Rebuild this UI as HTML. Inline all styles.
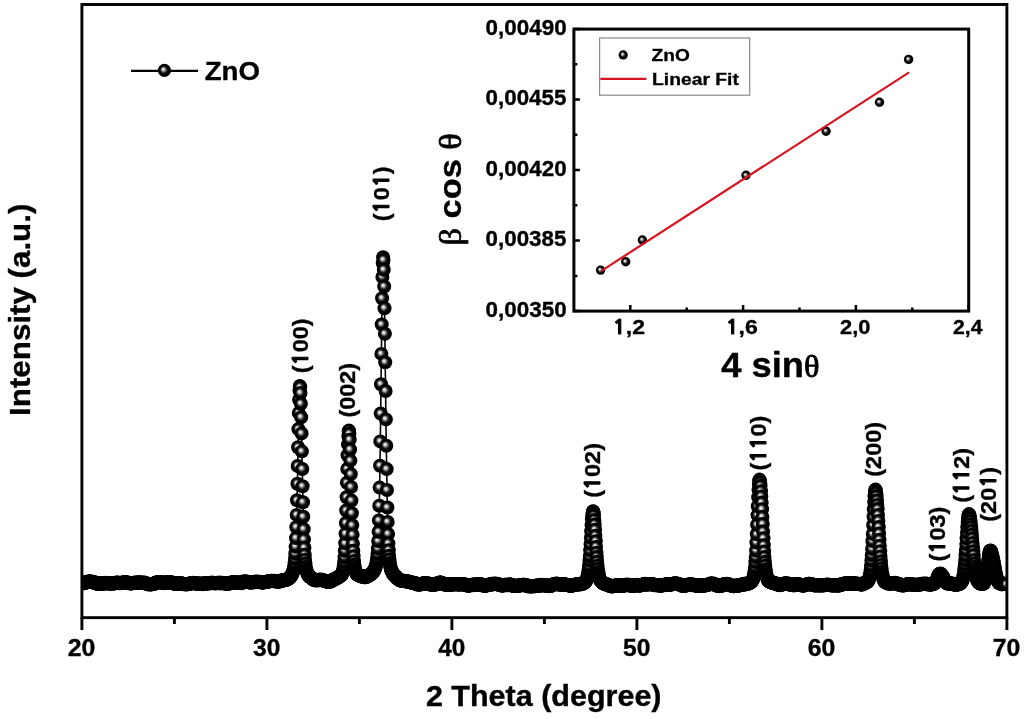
<!DOCTYPE html>
<html><head><meta charset="utf-8"><style>
html,body{margin:0;padding:0;background:#fff;}
body{width:1025px;height:719px;overflow:hidden;}
svg{display:block;}
text{font-family:"Liberation Sans",Arial,sans-serif;font-weight:bold;fill:#000;stroke:#000;stroke-width:0.35px;}
.sym{font-family:"Liberation Serif","Times New Roman",serif;font-weight:normal;}
.n1{font-family:"NanumGothic","Liberation Sans",sans-serif;stroke-width:1px;}
</style></head><body>
<svg width="1025" height="719" viewBox="0 0 1025 719">
<defs>
<radialGradient id="sph" cx="0.5" cy="0.5" r="0.5" fx="0.4" fy="0.4">
<stop offset="0" stop-color="#f4f4f4"/>
<stop offset="0.17" stop-color="#d4d4d4"/>
<stop offset="0.35" stop-color="#686868"/>
<stop offset="0.52" stop-color="#141414"/>
<stop offset="0.7" stop-color="#000"/>
<stop offset="1" stop-color="#000"/>
</radialGradient>
<clipPath id="mclip"><rect x="83" y="6" width="922.5" height="610"/></clipPath>
</defs>
<rect width="1025" height="719" fill="#fff"/>
<g clip-path="url(#mclip)">
<polyline points="81.9,583.5 82.3,583.1 82.6,582.8 83.0,583.1 83.3,582.7 83.7,582.6 84.0,583.3 84.4,582.8 84.7,582.8 85.1,582.7 85.4,582.9 85.8,582.5 86.1,582.5 86.5,582.0 86.8,581.8 87.2,582.2 87.5,582.1 87.9,581.9 88.2,581.7 88.6,581.6 88.9,581.4 89.3,581.8 89.6,581.6 90.0,581.6 90.3,581.6 90.7,581.8 91.0,581.7 91.4,581.8 91.7,581.5 92.1,581.9 92.4,582.4 92.8,581.9 93.1,582.1 93.5,582.5 93.9,582.6 94.2,582.6 94.6,582.3 94.9,582.8 95.3,582.6 95.6,582.8 96.0,583.2 96.3,583.1 96.7,583.4 97.0,584.0 97.4,583.6 97.7,583.6 98.1,583.4 98.4,583.5 98.8,583.5 99.1,583.6 99.5,583.5 99.8,583.6 100.2,583.7 100.5,583.6 100.9,583.5 101.2,583.5 101.6,583.8 101.9,583.6 102.3,583.8 102.6,583.7 103.0,583.4 103.3,583.5 103.7,583.0 104.0,583.7 104.4,583.4 104.7,583.1 105.1,582.9 105.5,583.2 105.8,582.7 106.2,582.9 106.5,583.2 106.9,583.1 107.2,583.0 107.6,583.4 107.9,583.0 108.3,583.3 108.6,583.2 109.0,583.1 109.3,583.4 109.7,583.2 110.0,583.8 110.4,583.3 110.7,583.8 111.1,583.2 111.4,583.6 111.8,583.2 112.1,583.2 112.5,583.5 112.8,583.5 113.2,583.1 113.5,583.6 113.9,583.1 114.2,583.3 114.6,583.3 114.9,583.2 115.3,582.7 115.6,583.3 116.0,583.1 116.3,582.9 116.7,582.7 117.0,582.6 117.4,582.6 117.8,583.0 118.1,582.9 118.5,582.8 118.8,582.9 119.2,583.3 119.5,583.0 119.9,582.9 120.2,583.3 120.6,583.1 120.9,583.0 121.3,582.9 121.6,582.6 122.0,582.7 122.3,582.7 122.7,582.7 123.0,582.8 123.4,582.8 123.7,582.6 124.1,582.6 124.4,582.3 124.8,582.0 125.1,582.4 125.5,582.3 125.8,582.3 126.2,582.5 126.5,582.3 126.9,582.4 127.2,582.7 127.6,582.8 127.9,582.7 128.3,583.0 128.6,582.9 129.0,582.8 129.4,583.1 129.7,583.5 130.1,583.0 130.4,583.3 130.8,583.4 131.1,583.4 131.5,582.9 131.8,583.5 132.2,583.0 132.5,582.9 132.9,582.9 133.2,583.1 133.6,582.9 133.9,582.8 134.3,583.1 134.6,582.7 135.0,582.6 135.3,582.9 135.7,582.9 136.0,582.9 136.4,582.5 136.7,582.9 137.1,582.8 137.4,583.0 137.8,582.4 138.1,582.7 138.5,582.6 138.8,582.3 139.2,582.5 139.5,582.8 139.9,582.5 140.2,582.5 140.6,582.8 141.0,582.9 141.3,582.9 141.7,582.5 142.0,582.7 142.4,583.0 142.7,582.7 143.1,582.7 143.4,583.1 143.8,583.3 144.1,582.8 144.5,582.6 144.8,582.9 145.2,583.1 145.5,583.4 145.9,583.6 146.2,583.5 146.6,583.5 146.9,583.8 147.3,583.6 147.6,583.9 148.0,583.9 148.3,584.6 148.7,584.3 149.0,584.1 149.4,584.1 149.7,584.3 150.1,584.1 150.4,584.3 150.8,584.3 151.1,584.6 151.5,584.3 151.8,584.2 152.2,584.1 152.6,584.0 152.9,584.1 153.3,584.0 153.6,584.1 154.0,583.6 154.3,583.8 154.7,583.5 155.0,583.2 155.4,582.7 155.7,582.6 156.1,582.9 156.4,582.9 156.8,582.5 157.1,582.5 157.5,582.2 157.8,582.1 158.2,582.0 158.5,582.3 158.9,582.1 159.2,582.0 159.6,582.0 159.9,582.2 160.3,582.2 160.6,582.1 161.0,582.6 161.3,582.4 161.7,582.5 162.0,582.8 162.4,582.8 162.7,582.7 163.1,582.9 163.4,582.6 163.8,582.8 164.2,582.5 164.5,583.2 164.9,582.6 165.2,583.1 165.6,582.7 165.9,582.6 166.3,582.7 166.6,582.7 167.0,582.7 167.3,582.9 167.7,582.5 168.0,582.5 168.4,582.2 168.7,582.4 169.1,582.3 169.4,582.1 169.8,582.2 170.1,582.3 170.5,582.4 170.8,582.5 171.2,582.5 171.5,582.5 171.9,582.9 172.2,582.6 172.6,582.9 172.9,583.4 173.3,582.7 173.6,583.1 174.0,583.5 174.3,583.0 174.7,583.9 175.0,582.9 175.4,583.7 175.8,583.8 176.1,583.6 176.5,583.4 176.8,583.5 177.2,583.3 177.5,583.6 177.9,583.2 178.2,583.4 178.6,583.6 178.9,583.2 179.3,583.3 179.6,583.5 180.0,583.2 180.3,583.7 180.7,583.6 181.0,583.2 181.4,583.6 181.7,583.5 182.1,583.6 182.4,583.8 182.8,583.7 183.1,584.1 183.5,583.8 183.8,584.2 184.2,584.1 184.5,584.3 184.9,584.0 185.2,584.0 185.6,583.9 185.9,584.3 186.3,584.3 186.6,584.5 187.0,584.3 187.3,584.1 187.7,583.9 188.1,584.0 188.4,583.8 188.8,584.1 189.1,583.9 189.5,583.5 189.8,583.4 190.2,583.7 190.5,583.5 190.9,583.3 191.2,583.5 191.6,583.2 191.9,583.1 192.3,583.1 192.6,582.8 193.0,583.3 193.3,582.9 193.7,583.1 194.0,583.1 194.4,583.4 194.7,583.3 195.1,583.3 195.4,583.0 195.8,583.4 196.1,583.1 196.5,583.5 196.8,583.5 197.2,583.5 197.5,583.9 197.9,583.7 198.2,583.7 198.6,583.6 198.9,583.6 199.3,583.9 199.7,584.0 200.0,583.5 200.4,584.0 200.7,584.0 201.1,584.1 201.4,584.0 201.8,583.6 202.1,583.7 202.5,584.2 202.8,583.9 203.2,583.5 203.5,583.8 203.9,583.7 204.2,583.3 204.6,583.2 204.9,583.3 205.3,583.7 205.6,583.6 206.0,583.5 206.3,583.6 206.7,583.6 207.0,583.1 207.4,583.4 207.7,583.3 208.1,583.2 208.4,583.3 208.8,583.3 209.1,583.2 209.5,582.9 209.8,583.1 210.2,583.5 210.5,582.8 210.9,582.7 211.3,583.0 211.6,583.1 212.0,583.1 212.3,582.7 212.7,583.2 213.0,582.8 213.4,582.8 213.7,582.9 214.1,583.0 214.4,583.2 214.8,583.2 215.1,583.1 215.5,583.3 215.8,583.2 216.2,583.3 216.5,582.9 216.9,582.8 217.2,583.3 217.6,582.9 217.9,583.1 218.3,583.1 218.6,583.0 219.0,582.9 219.3,583.3 219.7,582.5 220.0,583.1 220.4,583.4 220.7,582.9 221.1,582.9 221.4,583.1 221.8,583.3 222.1,582.8 222.5,583.1 222.9,583.1 223.2,583.3 223.6,583.2 223.9,583.4 224.3,583.2 224.6,583.4 225.0,583.3 225.3,583.4 225.7,583.5 226.0,583.6 226.4,583.4 226.7,583.9 227.1,583.6 227.4,583.4 227.8,583.8 228.1,583.4 228.5,583.6 228.8,583.4 229.2,583.4 229.5,583.3 229.9,583.1 230.2,583.1 230.6,583.4 230.9,582.4 231.3,582.8 231.6,582.8 232.0,582.4 232.3,582.2 232.7,582.8 233.0,582.3 233.4,582.7 233.7,582.4 234.1,582.3 234.5,582.4 234.8,582.4 235.2,582.5 235.5,582.4 235.9,582.4 236.2,582.5 236.6,582.8 236.9,582.8 237.3,582.5 237.6,582.6 238.0,582.8 238.3,582.7 238.7,582.7 239.0,582.6 239.4,582.8 239.7,582.9 240.1,583.0 240.4,582.7 240.8,583.1 241.1,582.6 241.5,583.2 241.8,582.6 242.2,582.5 242.5,582.2 242.9,581.6 243.2,582.1 243.6,582.0 243.9,582.3 244.3,581.6 244.6,582.2 245.0,581.7 245.3,581.9 245.7,581.2 246.1,581.8 246.4,581.7 246.8,581.9 247.1,581.9 247.5,581.7 247.8,582.1 248.2,582.1 248.5,582.2 248.9,582.3 249.2,582.4 249.6,582.2 249.9,582.0 250.3,582.0 250.6,582.6 251.0,582.5 251.3,582.3 251.7,582.2 252.0,582.3 252.4,582.2 252.7,582.1 253.1,582.0 253.4,582.5 253.8,582.1 254.1,581.9 254.5,581.7 254.8,581.8 255.2,582.0 255.5,582.0 255.9,581.8 256.2,581.8 256.6,581.7 256.9,581.6 257.3,582.1 257.6,581.9 258.0,582.3 258.4,581.7 258.7,581.9 259.1,582.1 259.4,581.9 259.8,581.7 260.1,581.9 260.5,582.1 260.8,582.2 261.2,582.2 261.5,582.4 261.9,582.5 262.2,582.4 262.6,582.3 262.9,582.3 263.3,582.4 263.6,582.5 264.0,582.3 264.3,582.3 264.7,582.1 265.0,581.9 265.4,581.9 265.7,582.1 266.1,582.0 266.4,582.1 266.8,581.7 267.1,581.8 267.5,581.8 267.8,581.7 268.2,581.2 268.5,581.2 268.9,581.2 269.2,580.9 269.6,581.2 270.0,581.2 270.3,580.9 270.7,581.3 271.0,580.9 271.4,580.9 271.7,580.8 272.1,580.7 272.4,581.0 272.8,580.9 273.1,581.3 273.5,581.1 273.8,581.1 274.2,581.0 274.5,580.8 274.9,581.1 275.2,581.0 275.6,581.4 275.9,581.2 276.3,581.6 276.6,581.4 277.0,581.5 277.3,581.4 277.7,581.4 278.0,581.5 278.4,581.5 278.7,581.2 279.1,581.4 279.4,581.8 279.8,581.2 280.1,581.1 280.5,580.9 280.8,580.6 281.2,581.0 281.6,580.7 281.9,580.6 282.3,580.8 282.6,580.8 283.0,580.0 283.3,580.3 283.7,580.1 284.0,580.0 284.4,580.0 284.7,579.8 285.1,580.1 285.4,579.8 285.8,579.7 286.1,579.8 286.5,579.6 286.8,579.5 287.2,579.3 287.5,579.5 287.9,579.1 288.2,578.8 288.6,578.4 288.9,578.3 289.3,577.9 289.6,577.8 290.0,577.5 290.3,576.7 290.7,576.7 291.0,576.3 291.4,575.7 291.7,574.9 292.1,574.7 292.4,573.5 292.8,572.5 293.2,571.5 293.5,570.3 293.9,568.7 294.2,566.4 294.6,563.1 294.9,558.7 295.3,553.5 295.6,546.6 296.0,538.1 296.3,527.2 296.7,514.9 297.0,500.3 297.4,483.7 297.7,466.0 298.1,447.3 298.4,429.1 298.8,412.9 299.1,399.8 299.5,390.5 299.8,385.9 300.2,387.3 300.5,393.0 300.9,403.7 301.2,417.3 301.6,433.4 301.9,451.4 302.3,469.0 302.6,486.3 303.0,502.2 303.3,516.8 303.7,529.1 304.0,539.4 304.4,547.8 304.8,554.8 305.1,559.7 305.5,563.6 305.8,567.0 306.2,569.4 306.5,570.8 306.9,571.7 307.2,572.9 307.6,574.0 307.9,574.5 308.3,575.3 308.6,575.2 309.0,576.1 309.3,576.2 309.7,576.9 310.0,576.9 310.4,577.4 310.7,577.4 311.1,577.5 311.4,577.8 311.8,578.2 312.1,578.3 312.5,579.0 312.8,579.3 313.2,579.3 313.5,579.2 313.9,579.6 314.2,579.7 314.6,580.3 314.9,580.2 315.3,580.3 315.6,580.2 316.0,579.9 316.4,580.2 316.7,580.1 317.1,580.3 317.4,580.2 317.8,580.0 318.1,580.0 318.5,580.4 318.8,579.8 319.2,579.8 319.5,579.9 319.9,579.8 320.2,579.8 320.6,580.0 320.9,580.3 321.3,579.6 321.6,580.0 322.0,580.1 322.3,580.1 322.7,580.2 323.0,580.2 323.4,580.6 323.7,580.4 324.1,580.6 324.4,580.7 324.8,580.9 325.1,580.9 325.5,581.3 325.8,581.2 326.2,581.4 326.5,581.5 326.9,581.4 327.2,581.5 327.6,581.5 327.9,581.8 328.3,581.7 328.7,581.6 329.0,581.8 329.4,581.8 329.7,581.2 330.1,581.8 330.4,581.3 330.8,581.2 331.1,581.2 331.5,580.8 331.8,580.5 332.2,580.8 332.5,580.0 332.9,580.0 333.2,580.0 333.6,579.4 333.9,579.4 334.3,579.3 334.6,579.6 335.0,578.8 335.3,578.8 335.7,578.8 336.0,578.5 336.4,578.1 336.7,578.2 337.1,577.9 337.4,577.8 337.8,577.7 338.1,577.5 338.5,577.2 338.8,576.9 339.2,576.4 339.5,576.4 339.9,576.2 340.3,575.8 340.6,575.7 341.0,575.2 341.3,575.3 341.7,575.0 342.0,573.9 342.4,573.2 342.7,572.0 343.1,570.8 343.4,568.6 343.8,565.7 344.1,561.9 344.5,557.1 344.8,550.7 345.2,543.3 345.5,533.7 345.9,523.0 346.2,510.5 346.6,497.2 346.9,482.8 347.3,468.9 347.6,455.3 348.0,444.4 348.3,435.9 348.7,431.3 349.0,430.6 349.4,433.8 349.7,439.7 350.1,449.5 350.4,460.6 350.8,474.1 351.1,487.0 351.5,500.6 351.9,513.2 352.2,525.3 352.6,534.8 352.9,543.7 353.3,550.7 353.6,556.2 354.0,561.1 354.3,564.8 354.7,567.3 355.0,569.5 355.4,570.8 355.7,571.9 356.1,572.6 356.4,573.4 356.8,574.2 357.1,574.2 357.5,574.5 357.8,574.5 358.2,574.7 358.5,575.4 358.9,575.0 359.2,575.2 359.6,575.5 359.9,575.6 360.3,576.2 360.6,575.4 361.0,576.1 361.3,576.3 361.7,576.1 362.0,576.3 362.4,576.6 362.7,577.0 363.1,576.6 363.5,576.5 363.8,577.1 364.2,577.3 364.5,576.9 364.9,576.6 365.2,577.3 365.6,576.9 365.9,577.1 366.3,576.7 366.6,576.5 367.0,576.4 367.3,576.6 367.7,576.4 368.0,575.5 368.4,575.6 368.7,575.9 369.1,575.3 369.4,574.9 369.8,575.0 370.1,574.8 370.5,574.6 370.8,574.2 371.2,574.0 371.5,573.7 371.9,573.6 372.2,573.0 372.6,572.7 372.9,572.3 373.3,572.0 373.6,571.3 374.0,570.6 374.3,570.0 374.7,569.2 375.1,568.5 375.4,567.4 375.8,566.5 376.1,565.0 376.5,562.9 376.8,560.6 377.2,557.8 377.5,553.8 377.9,548.4 378.2,541.0 378.6,531.8 378.9,520.4 379.3,505.7 379.6,487.6 380.0,465.7 380.3,441.4 380.7,413.5 381.0,384.2 381.4,353.9 381.7,324.5 382.1,298.3 382.4,277.0 382.8,263.3 383.1,257.3 383.5,260.0 383.8,269.8 384.2,286.5 384.5,308.2 384.9,333.8 385.2,362.2 385.6,391.0 385.9,419.4 386.3,445.7 386.7,469.1 387.0,490.0 387.4,507.5 387.7,522.0 388.1,533.9 388.4,543.4 388.8,550.2 389.1,555.8 389.5,559.6 389.8,563.3 390.2,565.6 390.5,567.2 390.9,569.1 391.2,570.3 391.6,571.0 391.9,571.8 392.3,572.4 392.6,573.3 393.0,573.3 393.3,574.0 393.7,574.9 394.0,574.9 394.4,575.3 394.7,575.6 395.1,575.7 395.4,576.3 395.8,576.7 396.1,576.8 396.5,577.4 396.8,578.0 397.2,578.3 397.5,578.1 397.9,578.5 398.2,578.7 398.6,579.5 399.0,579.7 399.3,580.0 399.7,579.9 400.0,580.0 400.4,580.4 400.7,580.5 401.1,580.4 401.4,580.7 401.8,580.9 402.1,580.9 402.5,580.7 402.8,580.5 403.2,580.9 403.5,581.1 403.9,581.0 404.2,581.0 404.6,581.0 404.9,581.3 405.3,581.2 405.6,581.3 406.0,581.2 406.3,581.3 406.7,581.5 407.0,581.3 407.4,581.3 407.7,581.6 408.1,582.0 408.4,581.8 408.8,582.1 409.1,581.9 409.5,581.9 409.8,581.8 410.2,582.0 410.6,582.5 410.9,582.4 411.3,582.5 411.6,582.6 412.0,582.5 412.3,582.5 412.7,582.7 413.0,582.9 413.4,582.9 413.7,583.0 414.1,583.1 414.4,583.0 414.8,583.2 415.1,583.2 415.5,583.7 415.8,583.2 416.2,583.7 416.5,584.4 416.9,583.9 417.2,583.9 417.6,584.2 417.9,584.5 418.3,584.2 418.6,584.4 419.0,584.3 419.3,584.2 419.7,584.9 420.0,584.2 420.4,584.1 420.7,584.0 421.1,584.1 421.4,584.0 421.8,584.0 422.2,583.8 422.5,583.4 422.9,583.8 423.2,583.5 423.6,583.4 423.9,583.1 424.3,583.3 424.6,583.2 425.0,583.3 425.3,583.1 425.7,583.4 426.0,583.4 426.4,583.2 426.7,583.4 427.1,583.4 427.4,583.9 427.8,583.3 428.1,583.8 428.5,583.6 428.8,583.9 429.2,584.3 429.5,584.0 429.9,584.2 430.2,584.1 430.6,584.7 430.9,584.5 431.3,584.6 431.6,584.2 432.0,584.3 432.3,584.7 432.7,584.5 433.0,584.6 433.4,584.7 433.8,584.4 434.1,584.8 434.5,584.6 434.8,584.6 435.2,584.3 435.5,584.5 435.9,584.1 436.2,584.3 436.6,584.2 436.9,584.0 437.3,583.7 437.6,583.6 438.0,582.7 438.3,583.3 438.7,582.9 439.0,582.9 439.4,582.7 439.7,582.4 440.1,582.6 440.4,582.8 440.8,583.0 441.1,582.6 441.5,582.7 441.8,583.3 442.2,582.9 442.5,583.7 442.9,583.4 443.2,583.4 443.6,583.9 443.9,584.2 444.3,583.8 444.6,584.5 445.0,584.2 445.4,584.7 445.7,584.4 446.1,584.3 446.4,584.7 446.8,584.8 447.1,585.1 447.5,585.0 447.8,584.8 448.2,584.6 448.5,584.5 448.9,584.5 449.2,584.4 449.6,584.5 449.9,584.0 450.3,584.5 450.6,584.5 451.0,585.0 451.3,584.6 451.7,584.3 452.0,584.5 452.4,584.1 452.7,584.2 453.1,583.9 453.4,584.5 453.8,584.3 454.1,583.9 454.5,584.1 454.8,584.3 455.2,584.3 455.5,584.2 455.9,584.0 456.2,584.1 456.6,584.3 457.0,584.5 457.3,584.1 457.7,584.1 458.0,584.5 458.4,584.1 458.7,584.5 459.1,584.3 459.4,584.4 459.8,584.5 460.1,584.3 460.5,584.3 460.8,583.9 461.2,583.9 461.5,584.2 461.9,584.3 462.2,584.3 462.6,584.5 462.9,584.2 463.3,584.2 463.6,584.5 464.0,584.4 464.3,584.5 464.7,584.4 465.0,584.9 465.4,584.6 465.7,585.1 466.1,584.8 466.4,585.4 466.8,585.1 467.1,585.6 467.5,585.2 467.8,585.4 468.2,585.8 468.5,585.4 468.9,585.5 469.3,585.4 469.6,585.0 470.0,585.4 470.3,585.4 470.7,585.0 471.0,585.2 471.4,584.9 471.7,584.8 472.1,584.9 472.4,584.8 472.8,585.3 473.1,584.5 473.5,585.0 473.8,585.1 474.2,584.5 474.5,584.5 474.9,585.0 475.2,584.7 475.6,584.9 475.9,585.0 476.3,584.6 476.6,584.4 477.0,584.0 477.3,584.5 477.7,584.2 478.0,584.4 478.4,584.4 478.7,584.0 479.1,584.6 479.4,584.5 479.8,584.4 480.1,584.1 480.5,584.3 480.9,584.4 481.2,584.5 481.6,584.5 481.9,585.0 482.3,585.1 482.6,585.3 483.0,585.2 483.3,585.7 483.7,585.6 484.0,585.1 484.4,585.6 484.7,585.7 485.1,585.9 485.4,585.6 485.8,585.6 486.1,585.4 486.5,585.6 486.8,585.3 487.2,585.2 487.5,585.1 487.9,585.3 488.2,584.9 488.6,584.6 488.9,585.0 489.3,584.6 489.6,584.7 490.0,584.7 490.3,584.7 490.7,584.6 491.0,584.2 491.4,584.2 491.7,583.9 492.1,584.4 492.5,584.1 492.8,584.3 493.2,583.9 493.5,583.5 493.9,584.2 494.2,583.9 494.6,583.9 494.9,583.8 495.3,584.0 495.6,584.0 496.0,583.6 496.3,584.1 496.7,583.9 497.0,584.0 497.4,584.5 497.7,584.4 498.1,584.3 498.4,584.1 498.8,584.6 499.1,584.8 499.5,584.9 499.8,584.7 500.2,585.0 500.5,585.0 500.9,585.3 501.2,585.5 501.6,585.6 501.9,585.2 502.3,585.4 502.6,585.5 503.0,585.2 503.3,585.2 503.7,585.6 504.1,585.1 504.4,585.2 504.8,584.9 505.1,584.9 505.5,584.6 505.8,584.9 506.2,585.1 506.5,585.3 506.9,585.1 507.2,585.0 507.6,584.8 507.9,584.7 508.3,584.8 508.6,584.9 509.0,584.6 509.3,585.0 509.7,584.6 510.0,584.5 510.4,584.7 510.7,584.6 511.1,584.7 511.4,585.3 511.8,585.1 512.1,585.3 512.5,585.6 512.8,585.7 513.2,585.4 513.5,585.9 513.9,585.8 514.2,585.8 514.6,586.0 514.9,585.6 515.3,585.8 515.7,585.9 516.0,586.1 516.4,585.8 516.7,585.9 517.1,586.0 517.4,586.1 517.8,585.9 518.1,585.9 518.5,585.5 518.8,585.5 519.2,585.5 519.5,585.3 519.9,585.2 520.2,585.5 520.6,585.1 520.9,584.9 521.3,585.1 521.6,585.3 522.0,585.0 522.3,585.2 522.7,584.8 523.0,584.8 523.4,584.8 523.7,584.9 524.1,585.3 524.4,584.8 524.8,585.4 525.1,584.9 525.5,585.2 525.8,585.5 526.2,585.5 526.5,585.5 526.9,585.2 527.3,585.7 527.6,585.6 528.0,586.4 528.3,585.9 528.7,586.1 529.0,585.9 529.4,586.1 529.7,586.0 530.1,586.5 530.4,586.2 530.8,586.4 531.1,586.2 531.5,586.2 531.8,586.5 532.2,586.1 532.5,585.9 532.9,586.3 533.2,585.9 533.6,586.0 533.9,586.2 534.3,585.9 534.6,586.2 535.0,585.8 535.3,586.2 535.7,586.1 536.0,585.8 536.4,585.8 536.7,585.6 537.1,585.8 537.4,586.0 537.8,585.4 538.1,585.9 538.5,585.4 538.8,585.4 539.2,585.2 539.6,585.9 539.9,585.4 540.3,585.4 540.6,585.2 541.0,585.5 541.3,584.8 541.7,585.2 542.0,585.6 542.4,585.0 542.7,585.1 543.1,585.2 543.4,584.9 543.8,585.1 544.1,585.3 544.5,585.2 544.8,585.3 545.2,585.2 545.5,585.4 545.9,585.5 546.2,585.9 546.6,585.8 546.9,585.7 547.3,585.3 547.6,586.0 548.0,586.1 548.3,585.8 548.7,585.6 549.0,585.8 549.4,586.2 549.7,585.8 550.1,585.8 550.4,585.9 550.8,586.0 551.2,585.6 551.5,585.4 551.9,585.1 552.2,585.4 552.6,585.1 552.9,584.7 553.3,584.2 553.6,584.2 554.0,584.3 554.3,583.9 554.7,584.1 555.0,583.9 555.4,583.8 555.7,583.9 556.1,583.9 556.4,583.6 556.8,583.8 557.1,584.4 557.5,583.7 557.8,583.9 558.2,584.3 558.5,584.2 558.9,584.1 559.2,584.0 559.6,584.5 559.9,584.6 560.3,584.7 560.6,584.4 561.0,584.6 561.3,584.2 561.7,584.4 562.0,584.3 562.4,584.4 562.8,584.5 563.1,584.6 563.5,584.2 563.8,584.7 564.2,584.4 564.5,584.3 564.9,584.5 565.2,584.3 565.6,584.7 565.9,584.8 566.3,584.8 566.6,585.1 567.0,585.0 567.3,585.1 567.7,584.9 568.0,585.3 568.4,585.2 568.7,585.4 569.1,585.5 569.4,585.6 569.8,585.3 570.1,585.3 570.5,585.6 570.8,585.7 571.2,585.7 571.5,585.7 571.9,585.7 572.2,585.5 572.6,585.3 572.9,585.0 573.3,584.9 573.6,584.9 574.0,585.0 574.4,584.9 574.7,584.7 575.1,584.6 575.4,584.7 575.8,584.6 576.1,584.6 576.5,584.5 576.8,584.3 577.2,584.2 577.5,584.5 577.9,584.4 578.2,584.3 578.6,584.2 578.9,584.7 579.3,584.0 579.6,584.1 580.0,584.1 580.3,583.8 580.7,584.0 581.0,584.2 581.4,584.0 581.7,583.9 582.1,583.8 582.4,583.6 582.8,583.7 583.1,583.4 583.5,583.2 583.8,583.1 584.2,583.0 584.5,582.6 584.9,582.4 585.2,581.5 585.6,581.7 586.0,581.4 586.3,580.6 586.7,579.5 587.0,578.4 587.4,577.4 587.7,575.7 588.1,574.1 588.4,571.5 588.8,568.8 589.1,565.4 589.5,560.4 589.8,556.0 590.2,550.3 590.5,544.0 590.9,537.7 591.2,531.3 591.6,525.3 591.9,519.2 592.3,515.4 592.6,512.7 593.0,511.2 593.3,511.6 593.7,513.2 594.0,515.8 594.4,520.0 594.7,524.5 595.1,529.7 595.4,535.8 595.8,541.2 596.1,546.9 596.5,552.7 596.8,557.1 597.2,561.7 597.6,565.7 597.9,569.0 598.3,572.1 598.6,574.2 599.0,576.4 599.3,577.8 599.7,578.9 600.0,579.6 600.4,580.5 600.7,581.1 601.1,581.2 601.4,581.9 601.8,582.3 602.1,582.5 602.5,583.1 602.8,583.2 603.2,583.0 603.5,583.4 603.9,583.4 604.2,583.8 604.6,583.7 604.9,584.1 605.3,584.1 605.6,584.3 606.0,584.2 606.3,584.0 606.7,584.7 607.0,584.5 607.4,584.9 607.7,584.8 608.1,585.0 608.4,585.4 608.8,585.3 609.1,585.7 609.5,585.3 609.9,585.9 610.2,585.8 610.6,586.0 610.9,586.1 611.3,586.3 611.6,586.6 612.0,585.9 612.3,586.3 612.7,586.1 613.0,586.4 613.4,586.0 613.7,586.1 614.1,585.9 614.4,586.0 614.8,586.0 615.1,585.6 615.5,585.6 615.8,585.3 616.2,585.6 616.5,585.7 616.9,585.4 617.2,585.8 617.6,585.1 617.9,585.2 618.3,585.3 618.6,585.6 619.0,585.7 619.3,585.7 619.7,585.7 620.0,585.9 620.4,585.7 620.7,585.5 621.1,585.5 621.5,586.1 621.8,585.2 622.2,585.6 622.5,585.9 622.9,585.7 623.2,585.3 623.6,585.4 623.9,585.5 624.3,585.5 624.6,585.0 625.0,585.2 625.3,585.1 625.7,585.2 626.0,585.2 626.4,584.8 626.7,584.5 627.1,584.9 627.4,585.1 627.8,584.9 628.1,584.9 628.5,585.4 628.8,584.8 629.2,585.2 629.5,585.0 629.9,585.2 630.2,585.3 630.6,585.7 630.9,585.3 631.3,585.4 631.6,585.3 632.0,585.7 632.3,585.5 632.7,585.7 633.1,585.3 633.4,585.5 633.8,585.7 634.1,585.4 634.5,585.5 634.8,585.4 635.2,585.2 635.5,584.9 635.9,585.4 636.2,585.3 636.6,585.4 636.9,584.8 637.3,584.9 637.6,584.9 638.0,585.2 638.3,585.6 638.7,585.5 639.0,585.4 639.4,585.5 639.7,585.6 640.1,585.4 640.4,585.4 640.8,585.3 641.1,584.7 641.5,585.0 641.8,585.2 642.2,584.8 642.5,584.7 642.9,584.5 643.2,584.4 643.6,584.6 643.9,584.3 644.3,584.1 644.7,583.7 645.0,584.2 645.4,583.9 645.7,583.9 646.1,584.5 646.4,584.5 646.8,584.0 647.1,584.5 647.5,584.4 647.8,584.2 648.2,584.5 648.5,584.0 648.9,584.0 649.2,583.9 649.6,584.0 649.9,584.4 650.3,583.9 650.6,584.0 651.0,584.0 651.3,584.3 651.7,584.2 652.0,584.5 652.4,584.3 652.7,584.2 653.1,584.5 653.4,584.7 653.8,584.6 654.1,584.9 654.5,585.2 654.8,584.8 655.2,585.0 655.5,585.3 655.9,584.9 656.3,584.9 656.6,584.9 657.0,585.2 657.3,585.2 657.7,585.1 658.0,585.2 658.4,585.5 658.7,585.4 659.1,585.0 659.4,585.4 659.8,585.4 660.1,585.6 660.5,585.5 660.8,585.4 661.2,585.4 661.5,585.2 661.9,585.5 662.2,585.4 662.6,585.5 662.9,585.1 663.3,585.2 663.6,585.0 664.0,584.9 664.3,585.1 664.7,584.8 665.0,584.9 665.4,584.5 665.7,584.6 666.1,584.2 666.4,584.4 666.8,584.4 667.1,584.6 667.5,584.5 667.9,584.5 668.2,584.7 668.6,584.6 668.9,584.6 669.3,584.7 669.6,584.5 670.0,584.5 670.3,584.5 670.7,584.4 671.0,584.5 671.4,584.5 671.7,584.4 672.1,584.1 672.4,583.8 672.8,583.9 673.1,583.8 673.5,584.0 673.8,583.6 674.2,583.5 674.5,583.7 674.9,583.4 675.2,583.4 675.6,583.8 675.9,583.8 676.3,583.6 676.6,583.6 677.0,583.4 677.3,583.8 677.7,583.8 678.0,584.0 678.4,583.9 678.7,584.2 679.1,584.3 679.4,584.5 679.8,584.9 680.2,584.9 680.5,584.6 680.9,584.9 681.2,585.0 681.6,585.3 681.9,585.7 682.3,585.7 682.6,585.6 683.0,585.8 683.3,585.7 683.7,585.5 684.0,585.5 684.4,585.6 684.7,585.9 685.1,585.3 685.4,585.7 685.8,585.6 686.1,585.2 686.5,585.1 686.8,584.8 687.2,584.9 687.5,584.9 687.9,584.7 688.2,584.8 688.6,584.8 688.9,584.6 689.3,584.6 689.6,584.5 690.0,584.6 690.3,584.3 690.7,584.7 691.0,584.7 691.4,584.5 691.8,585.2 692.1,584.6 692.5,584.7 692.8,585.0 693.2,584.6 693.5,584.9 693.9,584.8 694.2,585.0 694.6,585.2 694.9,585.4 695.3,585.6 695.6,585.5 696.0,585.6 696.3,585.5 696.7,585.4 697.0,585.7 697.4,585.4 697.7,585.4 698.1,585.8 698.4,585.7 698.8,585.6 699.1,585.7 699.5,585.8 699.8,585.4 700.2,585.6 700.5,585.4 700.9,585.7 701.2,585.5 701.6,585.9 701.9,585.7 702.3,585.4 702.6,585.5 703.0,585.2 703.4,585.5 703.7,585.5 704.1,585.4 704.4,584.9 704.8,585.2 705.1,585.4 705.5,585.3 705.8,585.4 706.2,584.9 706.5,585.2 706.9,584.9 707.2,585.0 707.6,584.9 707.9,584.9 708.3,584.5 708.6,584.6 709.0,584.2 709.3,584.0 709.7,584.3 710.0,584.0 710.4,583.6 710.7,583.6 711.1,583.7 711.4,584.0 711.8,583.9 712.1,583.8 712.5,583.3 712.8,583.7 713.2,583.9 713.5,584.0 713.9,584.1 714.2,584.1 714.6,584.7 715.0,584.8 715.3,584.6 715.7,584.6 716.0,585.4 716.4,585.0 716.7,585.5 717.1,585.7 717.4,585.3 717.8,585.6 718.1,585.6 718.5,585.8 718.8,585.8 719.2,586.2 719.5,585.9 719.9,585.8 720.2,586.0 720.6,585.7 720.9,585.6 721.3,586.0 721.6,585.3 722.0,585.2 722.3,585.2 722.7,584.8 723.0,584.5 723.4,585.0 723.7,584.5 724.1,584.4 724.4,584.3 724.8,584.1 725.1,584.0 725.5,584.2 725.8,584.6 726.2,584.2 726.6,584.2 726.9,583.8 727.3,584.1 727.6,584.0 728.0,584.4 728.3,584.4 728.7,584.5 729.0,584.6 729.4,584.7 729.7,584.6 730.1,585.2 730.4,585.0 730.8,585.2 731.1,585.5 731.5,585.5 731.8,585.8 732.2,586.1 732.5,586.0 732.9,586.0 733.2,586.1 733.6,586.2 733.9,585.7 734.3,586.2 734.6,585.9 735.0,585.8 735.3,586.0 735.7,585.8 736.0,586.0 736.4,586.0 736.7,585.3 737.1,585.6 737.4,586.0 737.8,585.7 738.2,585.7 738.5,585.4 738.9,585.0 739.2,585.0 739.6,585.3 739.9,585.3 740.3,584.9 740.6,584.9 741.0,584.9 741.3,584.4 741.7,584.6 742.0,584.9 742.4,585.0 742.7,584.4 743.1,584.7 743.4,584.2 743.8,584.0 744.1,583.7 744.5,584.3 744.8,584.0 745.2,584.5 745.5,584.0 745.9,584.0 746.2,583.5 746.6,584.2 746.9,583.7 747.3,583.7 747.6,583.2 748.0,583.8 748.3,583.6 748.7,583.2 749.0,583.2 749.4,583.1 749.7,583.0 750.1,582.6 750.5,582.7 750.8,582.1 751.2,581.8 751.5,581.5 751.9,580.8 752.2,580.7 752.6,580.5 752.9,579.7 753.3,578.5 753.6,577.5 754.0,575.3 754.3,573.4 754.7,570.7 755.0,567.0 755.4,562.1 755.7,556.9 756.1,550.5 756.4,542.5 756.8,534.2 757.1,524.7 757.5,515.1 757.8,506.2 758.2,497.3 758.5,489.8 758.9,484.0 759.2,480.5 759.6,479.6 759.9,480.6 760.3,482.7 760.6,486.1 761.0,491.3 761.3,496.5 761.7,502.6 762.1,509.2 762.4,516.9 762.8,524.0 763.1,531.6 763.5,538.3 763.8,545.3 764.2,551.5 764.5,557.0 764.9,561.8 765.2,565.6 765.6,569.5 765.9,571.7 766.3,574.1 766.6,576.0 767.0,577.1 767.3,578.6 767.7,579.5 768.0,580.0 768.4,581.0 768.7,581.0 769.1,581.4 769.4,581.5 769.8,581.6 770.1,582.0 770.5,582.2 770.8,582.3 771.2,582.6 771.5,582.1 771.9,582.4 772.2,582.3 772.6,583.0 772.9,582.6 773.3,582.7 773.7,582.7 774.0,583.1 774.4,583.0 774.7,583.2 775.1,582.9 775.4,583.7 775.8,583.7 776.1,583.9 776.5,584.2 776.8,584.1 777.2,584.2 777.5,584.5 777.9,584.6 778.2,584.6 778.6,584.7 778.9,584.7 779.3,584.9 779.6,585.0 780.0,584.8 780.3,585.2 780.7,584.4 781.0,584.6 781.4,584.9 781.7,584.4 782.1,584.1 782.4,584.6 782.8,584.3 783.1,583.8 783.5,584.1 783.8,583.7 784.2,583.5 784.5,583.7 784.9,583.6 785.3,583.4 785.6,583.6 786.0,583.4 786.3,583.6 786.7,583.6 787.0,583.8 787.4,583.7 787.7,583.5 788.1,583.6 788.4,583.9 788.8,584.4 789.1,584.3 789.5,584.1 789.8,584.6 790.2,584.2 790.5,584.8 790.9,584.6 791.2,584.9 791.6,584.9 791.9,584.7 792.3,584.9 792.6,584.6 793.0,584.8 793.3,585.0 793.7,585.6 794.0,584.9 794.4,584.7 794.7,584.4 795.1,584.8 795.4,584.2 795.8,584.3 796.1,584.5 796.5,584.1 796.9,584.7 797.2,584.6 797.6,584.2 797.9,584.3 798.3,584.2 798.6,584.2 799.0,584.6 799.3,584.7 799.7,584.8 800.0,584.8 800.4,584.8 800.7,585.0 801.1,584.8 801.4,585.1 801.8,585.5 802.1,585.6 802.5,585.2 802.8,585.3 803.2,585.6 803.5,585.7 803.9,585.0 804.2,585.2 804.6,585.2 804.9,585.3 805.3,584.8 805.6,585.0 806.0,584.7 806.3,585.1 806.7,584.6 807.0,584.3 807.4,584.2 807.7,584.4 808.1,584.2 808.5,583.8 808.8,584.1 809.2,583.8 809.5,583.9 809.9,583.8 810.2,583.9 810.6,584.1 810.9,584.2 811.3,584.6 811.6,584.7 812.0,584.6 812.3,584.6 812.7,585.1 813.0,584.6 813.4,584.7 813.7,585.3 814.1,585.3 814.4,585.4 814.8,585.2 815.1,585.0 815.5,585.2 815.8,585.4 816.2,585.1 816.5,585.2 816.9,585.0 817.2,585.1 817.6,585.5 817.9,585.4 818.3,585.1 818.6,585.1 819.0,585.2 819.3,585.5 819.7,585.1 820.0,585.3 820.4,585.0 820.8,585.1 821.1,585.5 821.5,585.5 821.8,585.1 822.2,585.1 822.5,585.4 822.9,585.2 823.2,585.1 823.6,585.3 823.9,585.2 824.3,585.3 824.6,585.2 825.0,584.9 825.3,585.0 825.7,585.0 826.0,584.7 826.4,584.7 826.7,585.1 827.1,584.5 827.4,585.0 827.8,584.9 828.1,584.8 828.5,584.9 828.8,584.9 829.2,585.1 829.5,584.8 829.9,584.9 830.2,584.9 830.6,585.4 830.9,585.2 831.3,584.9 831.6,585.1 832.0,585.0 832.4,585.2 832.7,585.2 833.1,585.7 833.4,584.9 833.8,585.4 834.1,585.3 834.5,585.1 834.8,585.2 835.2,585.1 835.5,585.2 835.9,585.4 836.2,584.9 836.6,585.5 836.9,585.2 837.3,585.6 837.6,585.4 838.0,585.6 838.3,585.4 838.7,585.5 839.0,585.3 839.4,585.0 839.7,585.3 840.1,585.2 840.4,585.3 840.8,584.4 841.1,584.6 841.5,584.7 841.8,584.1 842.2,584.2 842.5,584.5 842.9,584.3 843.2,583.7 843.6,584.1 844.0,583.9 844.3,583.8 844.7,583.6 845.0,583.6 845.4,583.3 845.7,583.4 846.1,583.6 846.4,583.5 846.8,583.8 847.1,583.4 847.5,583.0 847.8,583.4 848.2,583.5 848.5,583.5 848.9,583.5 849.2,583.3 849.6,583.7 849.9,583.3 850.3,583.6 850.6,583.4 851.0,583.2 851.3,583.7 851.7,583.0 852.0,583.3 852.4,583.6 852.7,583.4 853.1,583.7 853.4,583.5 853.8,583.5 854.1,584.0 854.5,583.5 854.8,583.6 855.2,583.4 855.6,583.5 855.9,583.9 856.3,583.9 856.6,583.8 857.0,583.7 857.3,584.0 857.7,583.6 858.0,583.9 858.4,583.9 858.7,583.9 859.1,584.1 859.4,584.0 859.8,584.0 860.1,584.5 860.5,584.3 860.8,584.4 861.2,584.2 861.5,584.4 861.9,584.3 862.2,584.4 862.6,584.5 862.9,583.9 863.3,583.9 863.6,583.7 864.0,582.8 864.3,583.1 864.7,583.2 865.0,583.1 865.4,582.7 865.7,582.8 866.1,582.6 866.4,582.1 866.8,582.2 867.2,582.1 867.5,581.5 867.9,580.9 868.2,581.0 868.6,580.1 868.9,579.3 869.3,578.3 869.6,576.8 870.0,575.2 870.3,572.7 870.7,569.7 871.0,565.6 871.4,560.5 871.7,555.0 872.1,548.7 872.4,541.1 872.8,533.9 873.1,525.0 873.5,516.7 873.8,509.2 874.2,502.1 874.5,496.2 874.9,492.1 875.2,490.0 875.6,489.6 875.9,490.7 876.3,492.9 876.6,496.3 877.0,500.4 877.3,504.9 877.7,509.1 878.0,515.0 878.4,520.9 878.8,527.1 879.1,533.4 879.5,539.8 879.8,545.7 880.2,551.2 880.5,556.4 880.9,561.3 881.2,564.9 881.6,568.6 881.9,571.9 882.3,574.1 882.6,575.6 883.0,577.7 883.3,578.8 883.7,579.8 884.0,580.8 884.4,581.2 884.7,581.5 885.1,582.1 885.4,582.3 885.8,582.4 886.1,582.7 886.5,582.8 886.8,582.9 887.2,583.0 887.5,583.2 887.9,583.1 888.2,583.1 888.6,583.7 888.9,583.4 889.3,583.5 889.6,583.5 890.0,583.5 890.3,583.5 890.7,583.5 891.1,583.3 891.4,583.6 891.8,583.2 892.1,583.5 892.5,582.9 892.8,583.0 893.2,583.4 893.5,583.1 893.9,583.0 894.2,583.2 894.6,583.0 894.9,583.2 895.3,582.8 895.6,583.3 896.0,583.3 896.3,583.7 896.7,583.8 897.0,583.6 897.4,584.2 897.7,583.9 898.1,583.7 898.4,583.8 898.8,584.7 899.1,584.5 899.5,584.5 899.8,584.5 900.2,584.6 900.5,585.1 900.9,584.9 901.2,585.4 901.6,585.1 901.9,584.7 902.3,585.4 902.7,585.1 903.0,585.2 903.4,585.5 903.7,585.1 904.1,585.4 904.4,585.1 904.8,584.8 905.1,585.0 905.5,584.7 905.8,584.9 906.2,584.8 906.5,584.5 906.9,584.5 907.2,584.5 907.6,584.2 907.9,584.4 908.3,584.2 908.6,584.3 909.0,584.0 909.3,584.3 909.7,584.3 910.0,584.1 910.4,584.2 910.7,584.3 911.1,584.6 911.4,584.3 911.8,584.6 912.1,584.9 912.5,584.7 912.8,584.3 913.2,584.7 913.5,585.0 913.9,584.7 914.3,585.1 914.6,585.0 915.0,585.0 915.3,584.8 915.7,584.8 916.0,584.8 916.4,584.9 916.7,585.0 917.1,584.9 917.4,584.8 917.8,584.8 918.1,584.8 918.5,584.4 918.8,584.5 919.2,584.4 919.5,584.5 919.9,584.4 920.2,584.4 920.6,584.2 920.9,584.4 921.3,584.3 921.6,583.8 922.0,584.0 922.3,583.7 922.7,584.2 923.0,583.7 923.4,583.7 923.7,583.8 924.1,583.7 924.4,583.7 924.8,584.0 925.1,583.8 925.5,583.9 925.9,584.0 926.2,583.6 926.6,584.2 926.9,584.0 927.3,584.1 927.6,583.8 928.0,584.2 928.3,584.2 928.7,584.1 929.0,584.7 929.4,584.3 929.7,584.2 930.1,584.3 930.4,584.5 930.8,584.5 931.1,584.4 931.5,584.5 931.8,584.5 932.2,583.9 932.5,584.0 932.9,583.8 933.2,583.9 933.6,584.1 933.9,583.8 934.3,583.2 934.6,583.1 935.0,583.0 935.3,582.3 935.7,581.9 936.0,581.4 936.4,580.2 936.7,580.0 937.1,579.0 937.5,578.1 937.8,576.9 938.2,576.0 938.5,575.2 938.9,574.7 939.2,574.1 939.6,573.8 939.9,574.0 940.3,573.9 940.6,573.6 941.0,573.9 941.3,574.7 941.7,574.8 942.0,575.6 942.4,576.2 942.7,576.4 943.1,577.1 943.4,577.9 943.8,578.5 944.1,579.2 944.5,580.1 944.8,581.0 945.2,581.4 945.5,581.9 945.9,582.3 946.2,582.5 946.6,583.4 946.9,582.8 947.3,583.3 947.6,583.6 948.0,583.2 948.3,583.6 948.7,583.7 949.1,583.2 949.4,583.4 949.8,583.1 950.1,583.5 950.5,583.4 950.8,583.4 951.2,583.7 951.5,583.6 951.9,583.9 952.2,583.9 952.6,583.6 952.9,584.0 953.3,584.2 953.6,583.9 954.0,584.6 954.3,584.5 954.7,584.6 955.0,584.5 955.4,584.7 955.7,584.8 956.1,584.7 956.4,584.7 956.8,584.3 957.1,584.9 957.5,584.3 957.8,584.0 958.2,584.1 958.5,584.0 958.9,584.1 959.2,583.7 959.6,583.7 959.9,583.3 960.3,583.7 960.6,583.0 961.0,583.0 961.4,582.0 961.7,581.9 962.1,580.9 962.4,580.5 962.8,579.4 963.1,577.7 963.5,576.1 963.8,573.9 964.2,571.2 964.5,568.2 964.9,564.4 965.2,559.9 965.6,555.3 965.9,550.0 966.3,544.0 966.6,538.3 967.0,532.6 967.3,527.2 967.7,522.4 968.0,518.8 968.4,516.1 968.7,514.6 969.1,514.1 969.4,515.2 969.8,516.7 970.1,518.5 970.5,521.2 970.8,524.5 971.2,527.4 971.5,531.1 971.9,534.8 972.2,538.6 972.6,542.9 973.0,546.9 973.3,551.3 973.7,555.2 974.0,560.0 974.4,563.5 974.7,566.8 975.1,569.7 975.4,572.4 975.8,574.7 976.1,576.6 976.5,578.1 976.8,579.0 977.2,580.2 977.5,580.8 977.9,581.3 978.2,581.8 978.6,582.5 978.9,582.9 979.3,582.6 979.6,583.4 980.0,583.5 980.3,583.3 980.7,583.4 981.0,583.6 981.4,583.9 981.7,583.7 982.1,583.6 982.4,583.9 982.8,583.4 983.1,583.7 983.5,583.7 983.8,583.2 984.2,582.8 984.6,582.2 984.9,581.4 985.3,580.2 985.6,578.6 986.0,577.1 986.3,575.2 986.7,573.2 987.0,570.7 987.4,567.8 987.7,564.7 988.1,561.8 988.4,559.0 988.8,556.7 989.1,554.2 989.5,552.4 989.8,551.0 990.2,550.7 990.5,550.5 990.9,550.8 991.2,551.6 991.6,553.0 991.9,553.9 992.3,555.7 992.6,557.2 993.0,558.6 993.3,560.5 993.7,562.2 994.0,564.0 994.4,566.2 994.7,568.1 995.1,570.4 995.4,572.2 995.8,574.1 996.2,575.8 996.5,576.6 996.9,578.6 997.2,579.3 997.6,580.6 997.9,581.2 998.3,582.0 998.6,582.8 999.0,582.6 999.3,583.2 999.7,583.4 1000.0,583.2 1000.4,583.8 1000.7,583.7 1001.1,583.7 1001.4,583.6 1001.8,584.4 1002.1,583.7 1002.5,583.5 1002.8,583.6 1003.2,583.8 1003.5,583.8 1003.9,583.9 1004.2,583.7 1004.6,584.1 1004.9,583.9 1005.3,583.7 1005.6,583.9 1006.0,584.0 1006.3,584.3 1006.7,584.3" fill="none" stroke="#000" stroke-width="1.6"/>
<g fill="url(#sph)"><circle cx="81.9" cy="583.5" r="7"/><circle cx="82.3" cy="583.1" r="7"/><circle cx="82.6" cy="582.8" r="7"/><circle cx="83.0" cy="583.1" r="7"/><circle cx="83.3" cy="582.7" r="7"/><circle cx="83.7" cy="582.6" r="7"/><circle cx="84.0" cy="583.3" r="7"/><circle cx="84.4" cy="582.8" r="7"/><circle cx="84.7" cy="582.8" r="7"/><circle cx="85.1" cy="582.7" r="7"/><circle cx="85.4" cy="582.9" r="7"/><circle cx="85.8" cy="582.5" r="7"/><circle cx="86.1" cy="582.5" r="7"/><circle cx="86.5" cy="582.0" r="7"/><circle cx="86.8" cy="581.8" r="7"/><circle cx="87.2" cy="582.2" r="7"/><circle cx="87.5" cy="582.1" r="7"/><circle cx="87.9" cy="581.9" r="7"/><circle cx="88.2" cy="581.7" r="7"/><circle cx="88.6" cy="581.6" r="7"/><circle cx="88.9" cy="581.4" r="7"/><circle cx="89.3" cy="581.8" r="7"/><circle cx="89.6" cy="581.6" r="7"/><circle cx="90.0" cy="581.6" r="7"/><circle cx="90.3" cy="581.6" r="7"/><circle cx="90.7" cy="581.8" r="7"/><circle cx="91.0" cy="581.7" r="7"/><circle cx="91.4" cy="581.8" r="7"/><circle cx="91.7" cy="581.5" r="7"/><circle cx="92.1" cy="581.9" r="7"/><circle cx="92.4" cy="582.4" r="7"/><circle cx="92.8" cy="581.9" r="7"/><circle cx="93.1" cy="582.1" r="7"/><circle cx="93.5" cy="582.5" r="7"/><circle cx="93.9" cy="582.6" r="7"/><circle cx="94.2" cy="582.6" r="7"/><circle cx="94.6" cy="582.3" r="7"/><circle cx="94.9" cy="582.8" r="7"/><circle cx="95.3" cy="582.6" r="7"/><circle cx="95.6" cy="582.8" r="7"/><circle cx="96.0" cy="583.2" r="7"/><circle cx="96.3" cy="583.1" r="7"/><circle cx="96.7" cy="583.4" r="7"/><circle cx="97.0" cy="584.0" r="7"/><circle cx="97.4" cy="583.6" r="7"/><circle cx="97.7" cy="583.6" r="7"/><circle cx="98.1" cy="583.4" r="7"/><circle cx="98.4" cy="583.5" r="7"/><circle cx="98.8" cy="583.5" r="7"/><circle cx="99.1" cy="583.6" r="7"/><circle cx="99.5" cy="583.5" r="7"/><circle cx="99.8" cy="583.6" r="7"/><circle cx="100.2" cy="583.7" r="7"/><circle cx="100.5" cy="583.6" r="7"/><circle cx="100.9" cy="583.5" r="7"/><circle cx="101.2" cy="583.5" r="7"/><circle cx="101.6" cy="583.8" r="7"/><circle cx="101.9" cy="583.6" r="7"/><circle cx="102.3" cy="583.8" r="7"/><circle cx="102.6" cy="583.7" r="7"/><circle cx="103.0" cy="583.4" r="7"/><circle cx="103.3" cy="583.5" r="7"/><circle cx="103.7" cy="583.0" r="7"/><circle cx="104.0" cy="583.7" r="7"/><circle cx="104.4" cy="583.4" r="7"/><circle cx="104.7" cy="583.1" r="7"/><circle cx="105.1" cy="582.9" r="7"/><circle cx="105.5" cy="583.2" r="7"/><circle cx="105.8" cy="582.7" r="7"/><circle cx="106.2" cy="582.9" r="7"/><circle cx="106.5" cy="583.2" r="7"/><circle cx="106.9" cy="583.1" r="7"/><circle cx="107.2" cy="583.0" r="7"/><circle cx="107.6" cy="583.4" r="7"/><circle cx="107.9" cy="583.0" r="7"/><circle cx="108.3" cy="583.3" r="7"/><circle cx="108.6" cy="583.2" r="7"/><circle cx="109.0" cy="583.1" r="7"/><circle cx="109.3" cy="583.4" r="7"/><circle cx="109.7" cy="583.2" r="7"/><circle cx="110.0" cy="583.8" r="7"/><circle cx="110.4" cy="583.3" r="7"/><circle cx="110.7" cy="583.8" r="7"/><circle cx="111.1" cy="583.2" r="7"/><circle cx="111.4" cy="583.6" r="7"/><circle cx="111.8" cy="583.2" r="7"/><circle cx="112.1" cy="583.2" r="7"/><circle cx="112.5" cy="583.5" r="7"/><circle cx="112.8" cy="583.5" r="7"/><circle cx="113.2" cy="583.1" r="7"/><circle cx="113.5" cy="583.6" r="7"/><circle cx="113.9" cy="583.1" r="7"/><circle cx="114.2" cy="583.3" r="7"/><circle cx="114.6" cy="583.3" r="7"/><circle cx="114.9" cy="583.2" r="7"/><circle cx="115.3" cy="582.7" r="7"/><circle cx="115.6" cy="583.3" r="7"/><circle cx="116.0" cy="583.1" r="7"/><circle cx="116.3" cy="582.9" r="7"/><circle cx="116.7" cy="582.7" r="7"/><circle cx="117.0" cy="582.6" r="7"/><circle cx="117.4" cy="582.6" r="7"/><circle cx="117.8" cy="583.0" r="7"/><circle cx="118.1" cy="582.9" r="7"/><circle cx="118.5" cy="582.8" r="7"/><circle cx="118.8" cy="582.9" r="7"/><circle cx="119.2" cy="583.3" r="7"/><circle cx="119.5" cy="583.0" r="7"/><circle cx="119.9" cy="582.9" r="7"/><circle cx="120.2" cy="583.3" r="7"/><circle cx="120.6" cy="583.1" r="7"/><circle cx="120.9" cy="583.0" r="7"/><circle cx="121.3" cy="582.9" r="7"/><circle cx="121.6" cy="582.6" r="7"/><circle cx="122.0" cy="582.7" r="7"/><circle cx="122.3" cy="582.7" r="7"/><circle cx="122.7" cy="582.7" r="7"/><circle cx="123.0" cy="582.8" r="7"/><circle cx="123.4" cy="582.8" r="7"/><circle cx="123.7" cy="582.6" r="7"/><circle cx="124.1" cy="582.6" r="7"/><circle cx="124.4" cy="582.3" r="7"/><circle cx="124.8" cy="582.0" r="7"/><circle cx="125.1" cy="582.4" r="7"/><circle cx="125.5" cy="582.3" r="7"/><circle cx="125.8" cy="582.3" r="7"/><circle cx="126.2" cy="582.5" r="7"/><circle cx="126.5" cy="582.3" r="7"/><circle cx="126.9" cy="582.4" r="7"/><circle cx="127.2" cy="582.7" r="7"/><circle cx="127.6" cy="582.8" r="7"/><circle cx="127.9" cy="582.7" r="7"/><circle cx="128.3" cy="583.0" r="7"/><circle cx="128.6" cy="582.9" r="7"/><circle cx="129.0" cy="582.8" r="7"/><circle cx="129.4" cy="583.1" r="7"/><circle cx="129.7" cy="583.5" r="7"/><circle cx="130.1" cy="583.0" r="7"/><circle cx="130.4" cy="583.3" r="7"/><circle cx="130.8" cy="583.4" r="7"/><circle cx="131.1" cy="583.4" r="7"/><circle cx="131.5" cy="582.9" r="7"/><circle cx="131.8" cy="583.5" r="7"/><circle cx="132.2" cy="583.0" r="7"/><circle cx="132.5" cy="582.9" r="7"/><circle cx="132.9" cy="582.9" r="7"/><circle cx="133.2" cy="583.1" r="7"/><circle cx="133.6" cy="582.9" r="7"/><circle cx="133.9" cy="582.8" r="7"/><circle cx="134.3" cy="583.1" r="7"/><circle cx="134.6" cy="582.7" r="7"/><circle cx="135.0" cy="582.6" r="7"/><circle cx="135.3" cy="582.9" r="7"/><circle cx="135.7" cy="582.9" r="7"/><circle cx="136.0" cy="582.9" r="7"/><circle cx="136.4" cy="582.5" r="7"/><circle cx="136.7" cy="582.9" r="7"/><circle cx="137.1" cy="582.8" r="7"/><circle cx="137.4" cy="583.0" r="7"/><circle cx="137.8" cy="582.4" r="7"/><circle cx="138.1" cy="582.7" r="7"/><circle cx="138.5" cy="582.6" r="7"/><circle cx="138.8" cy="582.3" r="7"/><circle cx="139.2" cy="582.5" r="7"/><circle cx="139.5" cy="582.8" r="7"/><circle cx="139.9" cy="582.5" r="7"/><circle cx="140.2" cy="582.5" r="7"/><circle cx="140.6" cy="582.8" r="7"/><circle cx="141.0" cy="582.9" r="7"/><circle cx="141.3" cy="582.9" r="7"/><circle cx="141.7" cy="582.5" r="7"/><circle cx="142.0" cy="582.7" r="7"/><circle cx="142.4" cy="583.0" r="7"/><circle cx="142.7" cy="582.7" r="7"/><circle cx="143.1" cy="582.7" r="7"/><circle cx="143.4" cy="583.1" r="7"/><circle cx="143.8" cy="583.3" r="7"/><circle cx="144.1" cy="582.8" r="7"/><circle cx="144.5" cy="582.6" r="7"/><circle cx="144.8" cy="582.9" r="7"/><circle cx="145.2" cy="583.1" r="7"/><circle cx="145.5" cy="583.4" r="7"/><circle cx="145.9" cy="583.6" r="7"/><circle cx="146.2" cy="583.5" r="7"/><circle cx="146.6" cy="583.5" r="7"/><circle cx="146.9" cy="583.8" r="7"/><circle cx="147.3" cy="583.6" r="7"/><circle cx="147.6" cy="583.9" r="7"/><circle cx="148.0" cy="583.9" r="7"/><circle cx="148.3" cy="584.6" r="7"/><circle cx="148.7" cy="584.3" r="7"/><circle cx="149.0" cy="584.1" r="7"/><circle cx="149.4" cy="584.1" r="7"/><circle cx="149.7" cy="584.3" r="7"/><circle cx="150.1" cy="584.1" r="7"/><circle cx="150.4" cy="584.3" r="7"/><circle cx="150.8" cy="584.3" r="7"/><circle cx="151.1" cy="584.6" r="7"/><circle cx="151.5" cy="584.3" r="7"/><circle cx="151.8" cy="584.2" r="7"/><circle cx="152.2" cy="584.1" r="7"/><circle cx="152.6" cy="584.0" r="7"/><circle cx="152.9" cy="584.1" r="7"/><circle cx="153.3" cy="584.0" r="7"/><circle cx="153.6" cy="584.1" r="7"/><circle cx="154.0" cy="583.6" r="7"/><circle cx="154.3" cy="583.8" r="7"/><circle cx="154.7" cy="583.5" r="7"/><circle cx="155.0" cy="583.2" r="7"/><circle cx="155.4" cy="582.7" r="7"/><circle cx="155.7" cy="582.6" r="7"/><circle cx="156.1" cy="582.9" r="7"/><circle cx="156.4" cy="582.9" r="7"/><circle cx="156.8" cy="582.5" r="7"/><circle cx="157.1" cy="582.5" r="7"/><circle cx="157.5" cy="582.2" r="7"/><circle cx="157.8" cy="582.1" r="7"/><circle cx="158.2" cy="582.0" r="7"/><circle cx="158.5" cy="582.3" r="7"/><circle cx="158.9" cy="582.1" r="7"/><circle cx="159.2" cy="582.0" r="7"/><circle cx="159.6" cy="582.0" r="7"/><circle cx="159.9" cy="582.2" r="7"/><circle cx="160.3" cy="582.2" r="7"/><circle cx="160.6" cy="582.1" r="7"/><circle cx="161.0" cy="582.6" r="7"/><circle cx="161.3" cy="582.4" r="7"/><circle cx="161.7" cy="582.5" r="7"/><circle cx="162.0" cy="582.8" r="7"/><circle cx="162.4" cy="582.8" r="7"/><circle cx="162.7" cy="582.7" r="7"/><circle cx="163.1" cy="582.9" r="7"/><circle cx="163.4" cy="582.6" r="7"/><circle cx="163.8" cy="582.8" r="7"/><circle cx="164.2" cy="582.5" r="7"/><circle cx="164.5" cy="583.2" r="7"/><circle cx="164.9" cy="582.6" r="7"/><circle cx="165.2" cy="583.1" r="7"/><circle cx="165.6" cy="582.7" r="7"/><circle cx="165.9" cy="582.6" r="7"/><circle cx="166.3" cy="582.7" r="7"/><circle cx="166.6" cy="582.7" r="7"/><circle cx="167.0" cy="582.7" r="7"/><circle cx="167.3" cy="582.9" r="7"/><circle cx="167.7" cy="582.5" r="7"/><circle cx="168.0" cy="582.5" r="7"/><circle cx="168.4" cy="582.2" r="7"/><circle cx="168.7" cy="582.4" r="7"/><circle cx="169.1" cy="582.3" r="7"/><circle cx="169.4" cy="582.1" r="7"/><circle cx="169.8" cy="582.2" r="7"/><circle cx="170.1" cy="582.3" r="7"/><circle cx="170.5" cy="582.4" r="7"/><circle cx="170.8" cy="582.5" r="7"/><circle cx="171.2" cy="582.5" r="7"/><circle cx="171.5" cy="582.5" r="7"/><circle cx="171.9" cy="582.9" r="7"/><circle cx="172.2" cy="582.6" r="7"/><circle cx="172.6" cy="582.9" r="7"/><circle cx="172.9" cy="583.4" r="7"/><circle cx="173.3" cy="582.7" r="7"/><circle cx="173.6" cy="583.1" r="7"/><circle cx="174.0" cy="583.5" r="7"/><circle cx="174.3" cy="583.0" r="7"/><circle cx="174.7" cy="583.9" r="7"/><circle cx="175.0" cy="582.9" r="7"/><circle cx="175.4" cy="583.7" r="7"/><circle cx="175.8" cy="583.8" r="7"/><circle cx="176.1" cy="583.6" r="7"/><circle cx="176.5" cy="583.4" r="7"/><circle cx="176.8" cy="583.5" r="7"/><circle cx="177.2" cy="583.3" r="7"/><circle cx="177.5" cy="583.6" r="7"/><circle cx="177.9" cy="583.2" r="7"/><circle cx="178.2" cy="583.4" r="7"/><circle cx="178.6" cy="583.6" r="7"/><circle cx="178.9" cy="583.2" r="7"/><circle cx="179.3" cy="583.3" r="7"/><circle cx="179.6" cy="583.5" r="7"/><circle cx="180.0" cy="583.2" r="7"/><circle cx="180.3" cy="583.7" r="7"/><circle cx="180.7" cy="583.6" r="7"/><circle cx="181.0" cy="583.2" r="7"/><circle cx="181.4" cy="583.6" r="7"/><circle cx="181.7" cy="583.5" r="7"/><circle cx="182.1" cy="583.6" r="7"/><circle cx="182.4" cy="583.8" r="7"/><circle cx="182.8" cy="583.7" r="7"/><circle cx="183.1" cy="584.1" r="7"/><circle cx="183.5" cy="583.8" r="7"/><circle cx="183.8" cy="584.2" r="7"/><circle cx="184.2" cy="584.1" r="7"/><circle cx="184.5" cy="584.3" r="7"/><circle cx="184.9" cy="584.0" r="7"/><circle cx="185.2" cy="584.0" r="7"/><circle cx="185.6" cy="583.9" r="7"/><circle cx="185.9" cy="584.3" r="7"/><circle cx="186.3" cy="584.3" r="7"/><circle cx="186.6" cy="584.5" r="7"/><circle cx="187.0" cy="584.3" r="7"/><circle cx="187.3" cy="584.1" r="7"/><circle cx="187.7" cy="583.9" r="7"/><circle cx="188.1" cy="584.0" r="7"/><circle cx="188.4" cy="583.8" r="7"/><circle cx="188.8" cy="584.1" r="7"/><circle cx="189.1" cy="583.9" r="7"/><circle cx="189.5" cy="583.5" r="7"/><circle cx="189.8" cy="583.4" r="7"/><circle cx="190.2" cy="583.7" r="7"/><circle cx="190.5" cy="583.5" r="7"/><circle cx="190.9" cy="583.3" r="7"/><circle cx="191.2" cy="583.5" r="7"/><circle cx="191.6" cy="583.2" r="7"/><circle cx="191.9" cy="583.1" r="7"/><circle cx="192.3" cy="583.1" r="7"/><circle cx="192.6" cy="582.8" r="7"/><circle cx="193.0" cy="583.3" r="7"/><circle cx="193.3" cy="582.9" r="7"/><circle cx="193.7" cy="583.1" r="7"/><circle cx="194.0" cy="583.1" r="7"/><circle cx="194.4" cy="583.4" r="7"/><circle cx="194.7" cy="583.3" r="7"/><circle cx="195.1" cy="583.3" r="7"/><circle cx="195.4" cy="583.0" r="7"/><circle cx="195.8" cy="583.4" r="7"/><circle cx="196.1" cy="583.1" r="7"/><circle cx="196.5" cy="583.5" r="7"/><circle cx="196.8" cy="583.5" r="7"/><circle cx="197.2" cy="583.5" r="7"/><circle cx="197.5" cy="583.9" r="7"/><circle cx="197.9" cy="583.7" r="7"/><circle cx="198.2" cy="583.7" r="7"/><circle cx="198.6" cy="583.6" r="7"/><circle cx="198.9" cy="583.6" r="7"/><circle cx="199.3" cy="583.9" r="7"/><circle cx="199.7" cy="584.0" r="7"/><circle cx="200.0" cy="583.5" r="7"/><circle cx="200.4" cy="584.0" r="7"/><circle cx="200.7" cy="584.0" r="7"/><circle cx="201.1" cy="584.1" r="7"/><circle cx="201.4" cy="584.0" r="7"/><circle cx="201.8" cy="583.6" r="7"/><circle cx="202.1" cy="583.7" r="7"/><circle cx="202.5" cy="584.2" r="7"/><circle cx="202.8" cy="583.9" r="7"/><circle cx="203.2" cy="583.5" r="7"/><circle cx="203.5" cy="583.8" r="7"/><circle cx="203.9" cy="583.7" r="7"/><circle cx="204.2" cy="583.3" r="7"/><circle cx="204.6" cy="583.2" r="7"/><circle cx="204.9" cy="583.3" r="7"/><circle cx="205.3" cy="583.7" r="7"/><circle cx="205.6" cy="583.6" r="7"/><circle cx="206.0" cy="583.5" r="7"/><circle cx="206.3" cy="583.6" r="7"/><circle cx="206.7" cy="583.6" r="7"/><circle cx="207.0" cy="583.1" r="7"/><circle cx="207.4" cy="583.4" r="7"/><circle cx="207.7" cy="583.3" r="7"/><circle cx="208.1" cy="583.2" r="7"/><circle cx="208.4" cy="583.3" r="7"/><circle cx="208.8" cy="583.3" r="7"/><circle cx="209.1" cy="583.2" r="7"/><circle cx="209.5" cy="582.9" r="7"/><circle cx="209.8" cy="583.1" r="7"/><circle cx="210.2" cy="583.5" r="7"/><circle cx="210.5" cy="582.8" r="7"/><circle cx="210.9" cy="582.7" r="7"/><circle cx="211.3" cy="583.0" r="7"/><circle cx="211.6" cy="583.1" r="7"/><circle cx="212.0" cy="583.1" r="7"/><circle cx="212.3" cy="582.7" r="7"/><circle cx="212.7" cy="583.2" r="7"/><circle cx="213.0" cy="582.8" r="7"/><circle cx="213.4" cy="582.8" r="7"/><circle cx="213.7" cy="582.9" r="7"/><circle cx="214.1" cy="583.0" r="7"/><circle cx="214.4" cy="583.2" r="7"/><circle cx="214.8" cy="583.2" r="7"/><circle cx="215.1" cy="583.1" r="7"/><circle cx="215.5" cy="583.3" r="7"/><circle cx="215.8" cy="583.2" r="7"/><circle cx="216.2" cy="583.3" r="7"/><circle cx="216.5" cy="582.9" r="7"/><circle cx="216.9" cy="582.8" r="7"/><circle cx="217.2" cy="583.3" r="7"/><circle cx="217.6" cy="582.9" r="7"/><circle cx="217.9" cy="583.1" r="7"/><circle cx="218.3" cy="583.1" r="7"/><circle cx="218.6" cy="583.0" r="7"/><circle cx="219.0" cy="582.9" r="7"/><circle cx="219.3" cy="583.3" r="7"/><circle cx="219.7" cy="582.5" r="7"/><circle cx="220.0" cy="583.1" r="7"/><circle cx="220.4" cy="583.4" r="7"/><circle cx="220.7" cy="582.9" r="7"/><circle cx="221.1" cy="582.9" r="7"/><circle cx="221.4" cy="583.1" r="7"/><circle cx="221.8" cy="583.3" r="7"/><circle cx="222.1" cy="582.8" r="7"/><circle cx="222.5" cy="583.1" r="7"/><circle cx="222.9" cy="583.1" r="7"/><circle cx="223.2" cy="583.3" r="7"/><circle cx="223.6" cy="583.2" r="7"/><circle cx="223.9" cy="583.4" r="7"/><circle cx="224.3" cy="583.2" r="7"/><circle cx="224.6" cy="583.4" r="7"/><circle cx="225.0" cy="583.3" r="7"/><circle cx="225.3" cy="583.4" r="7"/><circle cx="225.7" cy="583.5" r="7"/><circle cx="226.0" cy="583.6" r="7"/><circle cx="226.4" cy="583.4" r="7"/><circle cx="226.7" cy="583.9" r="7"/><circle cx="227.1" cy="583.6" r="7"/><circle cx="227.4" cy="583.4" r="7"/><circle cx="227.8" cy="583.8" r="7"/><circle cx="228.1" cy="583.4" r="7"/><circle cx="228.5" cy="583.6" r="7"/><circle cx="228.8" cy="583.4" r="7"/><circle cx="229.2" cy="583.4" r="7"/><circle cx="229.5" cy="583.3" r="7"/><circle cx="229.9" cy="583.1" r="7"/><circle cx="230.2" cy="583.1" r="7"/><circle cx="230.6" cy="583.4" r="7"/><circle cx="230.9" cy="582.4" r="7"/><circle cx="231.3" cy="582.8" r="7"/><circle cx="231.6" cy="582.8" r="7"/><circle cx="232.0" cy="582.4" r="7"/><circle cx="232.3" cy="582.2" r="7"/><circle cx="232.7" cy="582.8" r="7"/><circle cx="233.0" cy="582.3" r="7"/><circle cx="233.4" cy="582.7" r="7"/><circle cx="233.7" cy="582.4" r="7"/><circle cx="234.1" cy="582.3" r="7"/><circle cx="234.5" cy="582.4" r="7"/><circle cx="234.8" cy="582.4" r="7"/><circle cx="235.2" cy="582.5" r="7"/><circle cx="235.5" cy="582.4" r="7"/><circle cx="235.9" cy="582.4" r="7"/><circle cx="236.2" cy="582.5" r="7"/><circle cx="236.6" cy="582.8" r="7"/><circle cx="236.9" cy="582.8" r="7"/><circle cx="237.3" cy="582.5" r="7"/><circle cx="237.6" cy="582.6" r="7"/><circle cx="238.0" cy="582.8" r="7"/><circle cx="238.3" cy="582.7" r="7"/><circle cx="238.7" cy="582.7" r="7"/><circle cx="239.0" cy="582.6" r="7"/><circle cx="239.4" cy="582.8" r="7"/><circle cx="239.7" cy="582.9" r="7"/><circle cx="240.1" cy="583.0" r="7"/><circle cx="240.4" cy="582.7" r="7"/><circle cx="240.8" cy="583.1" r="7"/><circle cx="241.1" cy="582.6" r="7"/><circle cx="241.5" cy="583.2" r="7"/><circle cx="241.8" cy="582.6" r="7"/><circle cx="242.2" cy="582.5" r="7"/><circle cx="242.5" cy="582.2" r="7"/><circle cx="242.9" cy="581.6" r="7"/><circle cx="243.2" cy="582.1" r="7"/><circle cx="243.6" cy="582.0" r="7"/><circle cx="243.9" cy="582.3" r="7"/><circle cx="244.3" cy="581.6" r="7"/><circle cx="244.6" cy="582.2" r="7"/><circle cx="245.0" cy="581.7" r="7"/><circle cx="245.3" cy="581.9" r="7"/><circle cx="245.7" cy="581.2" r="7"/><circle cx="246.1" cy="581.8" r="7"/><circle cx="246.4" cy="581.7" r="7"/><circle cx="246.8" cy="581.9" r="7"/><circle cx="247.1" cy="581.9" r="7"/><circle cx="247.5" cy="581.7" r="7"/><circle cx="247.8" cy="582.1" r="7"/><circle cx="248.2" cy="582.1" r="7"/><circle cx="248.5" cy="582.2" r="7"/><circle cx="248.9" cy="582.3" r="7"/><circle cx="249.2" cy="582.4" r="7"/><circle cx="249.6" cy="582.2" r="7"/><circle cx="249.9" cy="582.0" r="7"/><circle cx="250.3" cy="582.0" r="7"/><circle cx="250.6" cy="582.6" r="7"/><circle cx="251.0" cy="582.5" r="7"/><circle cx="251.3" cy="582.3" r="7"/><circle cx="251.7" cy="582.2" r="7"/><circle cx="252.0" cy="582.3" r="7"/><circle cx="252.4" cy="582.2" r="7"/><circle cx="252.7" cy="582.1" r="7"/><circle cx="253.1" cy="582.0" r="7"/><circle cx="253.4" cy="582.5" r="7"/><circle cx="253.8" cy="582.1" r="7"/><circle cx="254.1" cy="581.9" r="7"/><circle cx="254.5" cy="581.7" r="7"/><circle cx="254.8" cy="581.8" r="7"/><circle cx="255.2" cy="582.0" r="7"/><circle cx="255.5" cy="582.0" r="7"/><circle cx="255.9" cy="581.8" r="7"/><circle cx="256.2" cy="581.8" r="7"/><circle cx="256.6" cy="581.7" r="7"/><circle cx="256.9" cy="581.6" r="7"/><circle cx="257.3" cy="582.1" r="7"/><circle cx="257.6" cy="581.9" r="7"/><circle cx="258.0" cy="582.3" r="7"/><circle cx="258.4" cy="581.7" r="7"/><circle cx="258.7" cy="581.9" r="7"/><circle cx="259.1" cy="582.1" r="7"/><circle cx="259.4" cy="581.9" r="7"/><circle cx="259.8" cy="581.7" r="7"/><circle cx="260.1" cy="581.9" r="7"/><circle cx="260.5" cy="582.1" r="7"/><circle cx="260.8" cy="582.2" r="7"/><circle cx="261.2" cy="582.2" r="7"/><circle cx="261.5" cy="582.4" r="7"/><circle cx="261.9" cy="582.5" r="7"/><circle cx="262.2" cy="582.4" r="7"/><circle cx="262.6" cy="582.3" r="7"/><circle cx="262.9" cy="582.3" r="7"/><circle cx="263.3" cy="582.4" r="7"/><circle cx="263.6" cy="582.5" r="7"/><circle cx="264.0" cy="582.3" r="7"/><circle cx="264.3" cy="582.3" r="7"/><circle cx="264.7" cy="582.1" r="7"/><circle cx="265.0" cy="581.9" r="7"/><circle cx="265.4" cy="581.9" r="7"/><circle cx="265.7" cy="582.1" r="7"/><circle cx="266.1" cy="582.0" r="7"/><circle cx="266.4" cy="582.1" r="7"/><circle cx="266.8" cy="581.7" r="7"/><circle cx="267.1" cy="581.8" r="7"/><circle cx="267.5" cy="581.8" r="7"/><circle cx="267.8" cy="581.7" r="7"/><circle cx="268.2" cy="581.2" r="7"/><circle cx="268.5" cy="581.2" r="7"/><circle cx="268.9" cy="581.2" r="7"/><circle cx="269.2" cy="580.9" r="7"/><circle cx="269.6" cy="581.2" r="7"/><circle cx="270.0" cy="581.2" r="7"/><circle cx="270.3" cy="580.9" r="7"/><circle cx="270.7" cy="581.3" r="7"/><circle cx="271.0" cy="580.9" r="7"/><circle cx="271.4" cy="580.9" r="7"/><circle cx="271.7" cy="580.8" r="7"/><circle cx="272.1" cy="580.7" r="7"/><circle cx="272.4" cy="581.0" r="7"/><circle cx="272.8" cy="580.9" r="7"/><circle cx="273.1" cy="581.3" r="7"/><circle cx="273.5" cy="581.1" r="7"/><circle cx="273.8" cy="581.1" r="7"/><circle cx="274.2" cy="581.0" r="7"/><circle cx="274.5" cy="580.8" r="7"/><circle cx="274.9" cy="581.1" r="7"/><circle cx="275.2" cy="581.0" r="7"/><circle cx="275.6" cy="581.4" r="7"/><circle cx="275.9" cy="581.2" r="7"/><circle cx="276.3" cy="581.6" r="7"/><circle cx="276.6" cy="581.4" r="7"/><circle cx="277.0" cy="581.5" r="7"/><circle cx="277.3" cy="581.4" r="7"/><circle cx="277.7" cy="581.4" r="7"/><circle cx="278.0" cy="581.5" r="7"/><circle cx="278.4" cy="581.5" r="7"/><circle cx="278.7" cy="581.2" r="7"/><circle cx="279.1" cy="581.4" r="7"/><circle cx="279.4" cy="581.8" r="7"/><circle cx="279.8" cy="581.2" r="7"/><circle cx="280.1" cy="581.1" r="7"/><circle cx="280.5" cy="580.9" r="7"/><circle cx="280.8" cy="580.6" r="7"/><circle cx="281.2" cy="581.0" r="7"/><circle cx="281.6" cy="580.7" r="7"/><circle cx="281.9" cy="580.6" r="7"/><circle cx="282.3" cy="580.8" r="7"/><circle cx="282.6" cy="580.8" r="7"/><circle cx="283.0" cy="580.0" r="7"/><circle cx="283.3" cy="580.3" r="7"/><circle cx="283.7" cy="580.1" r="7"/><circle cx="284.0" cy="580.0" r="7"/><circle cx="284.4" cy="580.0" r="7"/><circle cx="284.7" cy="579.8" r="7"/><circle cx="285.1" cy="580.1" r="7"/><circle cx="285.4" cy="579.8" r="7"/><circle cx="285.8" cy="579.7" r="7"/><circle cx="286.1" cy="579.8" r="7"/><circle cx="286.5" cy="579.6" r="7"/><circle cx="286.8" cy="579.5" r="7"/><circle cx="287.2" cy="579.3" r="7"/><circle cx="287.5" cy="579.5" r="7"/><circle cx="287.9" cy="579.1" r="7"/><circle cx="288.2" cy="578.8" r="7"/><circle cx="288.6" cy="578.4" r="7"/><circle cx="288.9" cy="578.3" r="7"/><circle cx="289.3" cy="577.9" r="7"/><circle cx="289.6" cy="577.8" r="7"/><circle cx="290.0" cy="577.5" r="7"/><circle cx="290.3" cy="576.7" r="7"/><circle cx="290.7" cy="576.7" r="7"/><circle cx="291.0" cy="576.3" r="7"/><circle cx="291.4" cy="575.7" r="7"/><circle cx="291.7" cy="574.9" r="7"/><circle cx="292.1" cy="574.7" r="7"/><circle cx="292.4" cy="573.5" r="7"/><circle cx="292.8" cy="572.5" r="7"/><circle cx="293.2" cy="571.5" r="7"/><circle cx="293.5" cy="570.3" r="7"/><circle cx="293.9" cy="568.7" r="7"/><circle cx="294.2" cy="566.4" r="7"/><circle cx="294.6" cy="563.1" r="7"/><circle cx="294.9" cy="558.7" r="7"/><circle cx="295.3" cy="553.5" r="7"/><circle cx="295.6" cy="546.6" r="7"/><circle cx="296.0" cy="538.1" r="7"/><circle cx="296.3" cy="527.2" r="7"/><circle cx="296.7" cy="514.9" r="7"/><circle cx="297.0" cy="500.3" r="7"/><circle cx="297.4" cy="483.7" r="7"/><circle cx="297.7" cy="466.0" r="7"/><circle cx="298.1" cy="447.3" r="7"/><circle cx="298.4" cy="429.1" r="7"/><circle cx="298.8" cy="412.9" r="7"/><circle cx="299.1" cy="399.8" r="7"/><circle cx="299.5" cy="390.5" r="7"/><circle cx="299.8" cy="385.9" r="7"/><circle cx="300.2" cy="387.3" r="7"/><circle cx="300.5" cy="393.0" r="7"/><circle cx="300.9" cy="403.7" r="7"/><circle cx="301.2" cy="417.3" r="7"/><circle cx="301.6" cy="433.4" r="7"/><circle cx="301.9" cy="451.4" r="7"/><circle cx="302.3" cy="469.0" r="7"/><circle cx="302.6" cy="486.3" r="7"/><circle cx="303.0" cy="502.2" r="7"/><circle cx="303.3" cy="516.8" r="7"/><circle cx="303.7" cy="529.1" r="7"/><circle cx="304.0" cy="539.4" r="7"/><circle cx="304.4" cy="547.8" r="7"/><circle cx="304.8" cy="554.8" r="7"/><circle cx="305.1" cy="559.7" r="7"/><circle cx="305.5" cy="563.6" r="7"/><circle cx="305.8" cy="567.0" r="7"/><circle cx="306.2" cy="569.4" r="7"/><circle cx="306.5" cy="570.8" r="7"/><circle cx="306.9" cy="571.7" r="7"/><circle cx="307.2" cy="572.9" r="7"/><circle cx="307.6" cy="574.0" r="7"/><circle cx="307.9" cy="574.5" r="7"/><circle cx="308.3" cy="575.3" r="7"/><circle cx="308.6" cy="575.2" r="7"/><circle cx="309.0" cy="576.1" r="7"/><circle cx="309.3" cy="576.2" r="7"/><circle cx="309.7" cy="576.9" r="7"/><circle cx="310.0" cy="576.9" r="7"/><circle cx="310.4" cy="577.4" r="7"/><circle cx="310.7" cy="577.4" r="7"/><circle cx="311.1" cy="577.5" r="7"/><circle cx="311.4" cy="577.8" r="7"/><circle cx="311.8" cy="578.2" r="7"/><circle cx="312.1" cy="578.3" r="7"/><circle cx="312.5" cy="579.0" r="7"/><circle cx="312.8" cy="579.3" r="7"/><circle cx="313.2" cy="579.3" r="7"/><circle cx="313.5" cy="579.2" r="7"/><circle cx="313.9" cy="579.6" r="7"/><circle cx="314.2" cy="579.7" r="7"/><circle cx="314.6" cy="580.3" r="7"/><circle cx="314.9" cy="580.2" r="7"/><circle cx="315.3" cy="580.3" r="7"/><circle cx="315.6" cy="580.2" r="7"/><circle cx="316.0" cy="579.9" r="7"/><circle cx="316.4" cy="580.2" r="7"/><circle cx="316.7" cy="580.1" r="7"/><circle cx="317.1" cy="580.3" r="7"/><circle cx="317.4" cy="580.2" r="7"/><circle cx="317.8" cy="580.0" r="7"/><circle cx="318.1" cy="580.0" r="7"/><circle cx="318.5" cy="580.4" r="7"/><circle cx="318.8" cy="579.8" r="7"/><circle cx="319.2" cy="579.8" r="7"/><circle cx="319.5" cy="579.9" r="7"/><circle cx="319.9" cy="579.8" r="7"/><circle cx="320.2" cy="579.8" r="7"/><circle cx="320.6" cy="580.0" r="7"/><circle cx="320.9" cy="580.3" r="7"/><circle cx="321.3" cy="579.6" r="7"/><circle cx="321.6" cy="580.0" r="7"/><circle cx="322.0" cy="580.1" r="7"/><circle cx="322.3" cy="580.1" r="7"/><circle cx="322.7" cy="580.2" r="7"/><circle cx="323.0" cy="580.2" r="7"/><circle cx="323.4" cy="580.6" r="7"/><circle cx="323.7" cy="580.4" r="7"/><circle cx="324.1" cy="580.6" r="7"/><circle cx="324.4" cy="580.7" r="7"/><circle cx="324.8" cy="580.9" r="7"/><circle cx="325.1" cy="580.9" r="7"/><circle cx="325.5" cy="581.3" r="7"/><circle cx="325.8" cy="581.2" r="7"/><circle cx="326.2" cy="581.4" r="7"/><circle cx="326.5" cy="581.5" r="7"/><circle cx="326.9" cy="581.4" r="7"/><circle cx="327.2" cy="581.5" r="7"/><circle cx="327.6" cy="581.5" r="7"/><circle cx="327.9" cy="581.8" r="7"/><circle cx="328.3" cy="581.7" r="7"/><circle cx="328.7" cy="581.6" r="7"/><circle cx="329.0" cy="581.8" r="7"/><circle cx="329.4" cy="581.8" r="7"/><circle cx="329.7" cy="581.2" r="7"/><circle cx="330.1" cy="581.8" r="7"/><circle cx="330.4" cy="581.3" r="7"/><circle cx="330.8" cy="581.2" r="7"/><circle cx="331.1" cy="581.2" r="7"/><circle cx="331.5" cy="580.8" r="7"/><circle cx="331.8" cy="580.5" r="7"/><circle cx="332.2" cy="580.8" r="7"/><circle cx="332.5" cy="580.0" r="7"/><circle cx="332.9" cy="580.0" r="7"/><circle cx="333.2" cy="580.0" r="7"/><circle cx="333.6" cy="579.4" r="7"/><circle cx="333.9" cy="579.4" r="7"/><circle cx="334.3" cy="579.3" r="7"/><circle cx="334.6" cy="579.6" r="7"/><circle cx="335.0" cy="578.8" r="7"/><circle cx="335.3" cy="578.8" r="7"/><circle cx="335.7" cy="578.8" r="7"/><circle cx="336.0" cy="578.5" r="7"/><circle cx="336.4" cy="578.1" r="7"/><circle cx="336.7" cy="578.2" r="7"/><circle cx="337.1" cy="577.9" r="7"/><circle cx="337.4" cy="577.8" r="7"/><circle cx="337.8" cy="577.7" r="7"/><circle cx="338.1" cy="577.5" r="7"/><circle cx="338.5" cy="577.2" r="7"/><circle cx="338.8" cy="576.9" r="7"/><circle cx="339.2" cy="576.4" r="7"/><circle cx="339.5" cy="576.4" r="7"/><circle cx="339.9" cy="576.2" r="7"/><circle cx="340.3" cy="575.8" r="7"/><circle cx="340.6" cy="575.7" r="7"/><circle cx="341.0" cy="575.2" r="7"/><circle cx="341.3" cy="575.3" r="7"/><circle cx="341.7" cy="575.0" r="7"/><circle cx="342.0" cy="573.9" r="7"/><circle cx="342.4" cy="573.2" r="7"/><circle cx="342.7" cy="572.0" r="7"/><circle cx="343.1" cy="570.8" r="7"/><circle cx="343.4" cy="568.6" r="7"/><circle cx="343.8" cy="565.7" r="7"/><circle cx="344.1" cy="561.9" r="7"/><circle cx="344.5" cy="557.1" r="7"/><circle cx="344.8" cy="550.7" r="7"/><circle cx="345.2" cy="543.3" r="7"/><circle cx="345.5" cy="533.7" r="7"/><circle cx="345.9" cy="523.0" r="7"/><circle cx="346.2" cy="510.5" r="7"/><circle cx="346.6" cy="497.2" r="7"/><circle cx="346.9" cy="482.8" r="7"/><circle cx="347.3" cy="468.9" r="7"/><circle cx="347.6" cy="455.3" r="7"/><circle cx="348.0" cy="444.4" r="7"/><circle cx="348.3" cy="435.9" r="7"/><circle cx="348.7" cy="431.3" r="7"/><circle cx="349.0" cy="430.6" r="7"/><circle cx="349.4" cy="433.8" r="7"/><circle cx="349.7" cy="439.7" r="7"/><circle cx="350.1" cy="449.5" r="7"/><circle cx="350.4" cy="460.6" r="7"/><circle cx="350.8" cy="474.1" r="7"/><circle cx="351.1" cy="487.0" r="7"/><circle cx="351.5" cy="500.6" r="7"/><circle cx="351.9" cy="513.2" r="7"/><circle cx="352.2" cy="525.3" r="7"/><circle cx="352.6" cy="534.8" r="7"/><circle cx="352.9" cy="543.7" r="7"/><circle cx="353.3" cy="550.7" r="7"/><circle cx="353.6" cy="556.2" r="7"/><circle cx="354.0" cy="561.1" r="7"/><circle cx="354.3" cy="564.8" r="7"/><circle cx="354.7" cy="567.3" r="7"/><circle cx="355.0" cy="569.5" r="7"/><circle cx="355.4" cy="570.8" r="7"/><circle cx="355.7" cy="571.9" r="7"/><circle cx="356.1" cy="572.6" r="7"/><circle cx="356.4" cy="573.4" r="7"/><circle cx="356.8" cy="574.2" r="7"/><circle cx="357.1" cy="574.2" r="7"/><circle cx="357.5" cy="574.5" r="7"/><circle cx="357.8" cy="574.5" r="7"/><circle cx="358.2" cy="574.7" r="7"/><circle cx="358.5" cy="575.4" r="7"/><circle cx="358.9" cy="575.0" r="7"/><circle cx="359.2" cy="575.2" r="7"/><circle cx="359.6" cy="575.5" r="7"/><circle cx="359.9" cy="575.6" r="7"/><circle cx="360.3" cy="576.2" r="7"/><circle cx="360.6" cy="575.4" r="7"/><circle cx="361.0" cy="576.1" r="7"/><circle cx="361.3" cy="576.3" r="7"/><circle cx="361.7" cy="576.1" r="7"/><circle cx="362.0" cy="576.3" r="7"/><circle cx="362.4" cy="576.6" r="7"/><circle cx="362.7" cy="577.0" r="7"/><circle cx="363.1" cy="576.6" r="7"/><circle cx="363.5" cy="576.5" r="7"/><circle cx="363.8" cy="577.1" r="7"/><circle cx="364.2" cy="577.3" r="7"/><circle cx="364.5" cy="576.9" r="7"/><circle cx="364.9" cy="576.6" r="7"/><circle cx="365.2" cy="577.3" r="7"/><circle cx="365.6" cy="576.9" r="7"/><circle cx="365.9" cy="577.1" r="7"/><circle cx="366.3" cy="576.7" r="7"/><circle cx="366.6" cy="576.5" r="7"/><circle cx="367.0" cy="576.4" r="7"/><circle cx="367.3" cy="576.6" r="7"/><circle cx="367.7" cy="576.4" r="7"/><circle cx="368.0" cy="575.5" r="7"/><circle cx="368.4" cy="575.6" r="7"/><circle cx="368.7" cy="575.9" r="7"/><circle cx="369.1" cy="575.3" r="7"/><circle cx="369.4" cy="574.9" r="7"/><circle cx="369.8" cy="575.0" r="7"/><circle cx="370.1" cy="574.8" r="7"/><circle cx="370.5" cy="574.6" r="7"/><circle cx="370.8" cy="574.2" r="7"/><circle cx="371.2" cy="574.0" r="7"/><circle cx="371.5" cy="573.7" r="7"/><circle cx="371.9" cy="573.6" r="7"/><circle cx="372.2" cy="573.0" r="7"/><circle cx="372.6" cy="572.7" r="7"/><circle cx="372.9" cy="572.3" r="7"/><circle cx="373.3" cy="572.0" r="7"/><circle cx="373.6" cy="571.3" r="7"/><circle cx="374.0" cy="570.6" r="7"/><circle cx="374.3" cy="570.0" r="7"/><circle cx="374.7" cy="569.2" r="7"/><circle cx="375.1" cy="568.5" r="7"/><circle cx="375.4" cy="567.4" r="7"/><circle cx="375.8" cy="566.5" r="7"/><circle cx="376.1" cy="565.0" r="7"/><circle cx="376.5" cy="562.9" r="7"/><circle cx="376.8" cy="560.6" r="7"/><circle cx="377.2" cy="557.8" r="7"/><circle cx="377.5" cy="553.8" r="7"/><circle cx="377.9" cy="548.4" r="7"/><circle cx="378.2" cy="541.0" r="7"/><circle cx="378.6" cy="531.8" r="7"/><circle cx="378.9" cy="520.4" r="7"/><circle cx="379.3" cy="505.7" r="7"/><circle cx="379.6" cy="487.6" r="7"/><circle cx="380.0" cy="465.7" r="7"/><circle cx="380.3" cy="441.4" r="7"/><circle cx="380.7" cy="413.5" r="7"/><circle cx="381.0" cy="384.2" r="7"/><circle cx="381.4" cy="353.9" r="7"/><circle cx="381.7" cy="324.5" r="7"/><circle cx="382.1" cy="298.3" r="7"/><circle cx="382.4" cy="277.0" r="7"/><circle cx="382.8" cy="263.3" r="7"/><circle cx="383.1" cy="257.3" r="7"/><circle cx="383.5" cy="260.0" r="7"/><circle cx="383.8" cy="269.8" r="7"/><circle cx="384.2" cy="286.5" r="7"/><circle cx="384.5" cy="308.2" r="7"/><circle cx="384.9" cy="333.8" r="7"/><circle cx="385.2" cy="362.2" r="7"/><circle cx="385.6" cy="391.0" r="7"/><circle cx="385.9" cy="419.4" r="7"/><circle cx="386.3" cy="445.7" r="7"/><circle cx="386.7" cy="469.1" r="7"/><circle cx="387.0" cy="490.0" r="7"/><circle cx="387.4" cy="507.5" r="7"/><circle cx="387.7" cy="522.0" r="7"/><circle cx="388.1" cy="533.9" r="7"/><circle cx="388.4" cy="543.4" r="7"/><circle cx="388.8" cy="550.2" r="7"/><circle cx="389.1" cy="555.8" r="7"/><circle cx="389.5" cy="559.6" r="7"/><circle cx="389.8" cy="563.3" r="7"/><circle cx="390.2" cy="565.6" r="7"/><circle cx="390.5" cy="567.2" r="7"/><circle cx="390.9" cy="569.1" r="7"/><circle cx="391.2" cy="570.3" r="7"/><circle cx="391.6" cy="571.0" r="7"/><circle cx="391.9" cy="571.8" r="7"/><circle cx="392.3" cy="572.4" r="7"/><circle cx="392.6" cy="573.3" r="7"/><circle cx="393.0" cy="573.3" r="7"/><circle cx="393.3" cy="574.0" r="7"/><circle cx="393.7" cy="574.9" r="7"/><circle cx="394.0" cy="574.9" r="7"/><circle cx="394.4" cy="575.3" r="7"/><circle cx="394.7" cy="575.6" r="7"/><circle cx="395.1" cy="575.7" r="7"/><circle cx="395.4" cy="576.3" r="7"/><circle cx="395.8" cy="576.7" r="7"/><circle cx="396.1" cy="576.8" r="7"/><circle cx="396.5" cy="577.4" r="7"/><circle cx="396.8" cy="578.0" r="7"/><circle cx="397.2" cy="578.3" r="7"/><circle cx="397.5" cy="578.1" r="7"/><circle cx="397.9" cy="578.5" r="7"/><circle cx="398.2" cy="578.7" r="7"/><circle cx="398.6" cy="579.5" r="7"/><circle cx="399.0" cy="579.7" r="7"/><circle cx="399.3" cy="580.0" r="7"/><circle cx="399.7" cy="579.9" r="7"/><circle cx="400.0" cy="580.0" r="7"/><circle cx="400.4" cy="580.4" r="7"/><circle cx="400.7" cy="580.5" r="7"/><circle cx="401.1" cy="580.4" r="7"/><circle cx="401.4" cy="580.7" r="7"/><circle cx="401.8" cy="580.9" r="7"/><circle cx="402.1" cy="580.9" r="7"/><circle cx="402.5" cy="580.7" r="7"/><circle cx="402.8" cy="580.5" r="7"/><circle cx="403.2" cy="580.9" r="7"/><circle cx="403.5" cy="581.1" r="7"/><circle cx="403.9" cy="581.0" r="7"/><circle cx="404.2" cy="581.0" r="7"/><circle cx="404.6" cy="581.0" r="7"/><circle cx="404.9" cy="581.3" r="7"/><circle cx="405.3" cy="581.2" r="7"/><circle cx="405.6" cy="581.3" r="7"/><circle cx="406.0" cy="581.2" r="7"/><circle cx="406.3" cy="581.3" r="7"/><circle cx="406.7" cy="581.5" r="7"/><circle cx="407.0" cy="581.3" r="7"/><circle cx="407.4" cy="581.3" r="7"/><circle cx="407.7" cy="581.6" r="7"/><circle cx="408.1" cy="582.0" r="7"/><circle cx="408.4" cy="581.8" r="7"/><circle cx="408.8" cy="582.1" r="7"/><circle cx="409.1" cy="581.9" r="7"/><circle cx="409.5" cy="581.9" r="7"/><circle cx="409.8" cy="581.8" r="7"/><circle cx="410.2" cy="582.0" r="7"/><circle cx="410.6" cy="582.5" r="7"/><circle cx="410.9" cy="582.4" r="7"/><circle cx="411.3" cy="582.5" r="7"/><circle cx="411.6" cy="582.6" r="7"/><circle cx="412.0" cy="582.5" r="7"/><circle cx="412.3" cy="582.5" r="7"/><circle cx="412.7" cy="582.7" r="7"/><circle cx="413.0" cy="582.9" r="7"/><circle cx="413.4" cy="582.9" r="7"/><circle cx="413.7" cy="583.0" r="7"/><circle cx="414.1" cy="583.1" r="7"/><circle cx="414.4" cy="583.0" r="7"/><circle cx="414.8" cy="583.2" r="7"/><circle cx="415.1" cy="583.2" r="7"/><circle cx="415.5" cy="583.7" r="7"/><circle cx="415.8" cy="583.2" r="7"/><circle cx="416.2" cy="583.7" r="7"/><circle cx="416.5" cy="584.4" r="7"/><circle cx="416.9" cy="583.9" r="7"/><circle cx="417.2" cy="583.9" r="7"/><circle cx="417.6" cy="584.2" r="7"/><circle cx="417.9" cy="584.5" r="7"/><circle cx="418.3" cy="584.2" r="7"/><circle cx="418.6" cy="584.4" r="7"/><circle cx="419.0" cy="584.3" r="7"/><circle cx="419.3" cy="584.2" r="7"/><circle cx="419.7" cy="584.9" r="7"/><circle cx="420.0" cy="584.2" r="7"/><circle cx="420.4" cy="584.1" r="7"/><circle cx="420.7" cy="584.0" r="7"/><circle cx="421.1" cy="584.1" r="7"/><circle cx="421.4" cy="584.0" r="7"/><circle cx="421.8" cy="584.0" r="7"/><circle cx="422.2" cy="583.8" r="7"/><circle cx="422.5" cy="583.4" r="7"/><circle cx="422.9" cy="583.8" r="7"/><circle cx="423.2" cy="583.5" r="7"/><circle cx="423.6" cy="583.4" r="7"/><circle cx="423.9" cy="583.1" r="7"/><circle cx="424.3" cy="583.3" r="7"/><circle cx="424.6" cy="583.2" r="7"/><circle cx="425.0" cy="583.3" r="7"/><circle cx="425.3" cy="583.1" r="7"/><circle cx="425.7" cy="583.4" r="7"/><circle cx="426.0" cy="583.4" r="7"/><circle cx="426.4" cy="583.2" r="7"/><circle cx="426.7" cy="583.4" r="7"/><circle cx="427.1" cy="583.4" r="7"/><circle cx="427.4" cy="583.9" r="7"/><circle cx="427.8" cy="583.3" r="7"/><circle cx="428.1" cy="583.8" r="7"/><circle cx="428.5" cy="583.6" r="7"/><circle cx="428.8" cy="583.9" r="7"/><circle cx="429.2" cy="584.3" r="7"/><circle cx="429.5" cy="584.0" r="7"/><circle cx="429.9" cy="584.2" r="7"/><circle cx="430.2" cy="584.1" r="7"/><circle cx="430.6" cy="584.7" r="7"/><circle cx="430.9" cy="584.5" r="7"/><circle cx="431.3" cy="584.6" r="7"/><circle cx="431.6" cy="584.2" r="7"/><circle cx="432.0" cy="584.3" r="7"/><circle cx="432.3" cy="584.7" r="7"/><circle cx="432.7" cy="584.5" r="7"/><circle cx="433.0" cy="584.6" r="7"/><circle cx="433.4" cy="584.7" r="7"/><circle cx="433.8" cy="584.4" r="7"/><circle cx="434.1" cy="584.8" r="7"/><circle cx="434.5" cy="584.6" r="7"/><circle cx="434.8" cy="584.6" r="7"/><circle cx="435.2" cy="584.3" r="7"/><circle cx="435.5" cy="584.5" r="7"/><circle cx="435.9" cy="584.1" r="7"/><circle cx="436.2" cy="584.3" r="7"/><circle cx="436.6" cy="584.2" r="7"/><circle cx="436.9" cy="584.0" r="7"/><circle cx="437.3" cy="583.7" r="7"/><circle cx="437.6" cy="583.6" r="7"/><circle cx="438.0" cy="582.7" r="7"/><circle cx="438.3" cy="583.3" r="7"/><circle cx="438.7" cy="582.9" r="7"/><circle cx="439.0" cy="582.9" r="7"/><circle cx="439.4" cy="582.7" r="7"/><circle cx="439.7" cy="582.4" r="7"/><circle cx="440.1" cy="582.6" r="7"/><circle cx="440.4" cy="582.8" r="7"/><circle cx="440.8" cy="583.0" r="7"/><circle cx="441.1" cy="582.6" r="7"/><circle cx="441.5" cy="582.7" r="7"/><circle cx="441.8" cy="583.3" r="7"/><circle cx="442.2" cy="582.9" r="7"/><circle cx="442.5" cy="583.7" r="7"/><circle cx="442.9" cy="583.4" r="7"/><circle cx="443.2" cy="583.4" r="7"/><circle cx="443.6" cy="583.9" r="7"/><circle cx="443.9" cy="584.2" r="7"/><circle cx="444.3" cy="583.8" r="7"/><circle cx="444.6" cy="584.5" r="7"/><circle cx="445.0" cy="584.2" r="7"/><circle cx="445.4" cy="584.7" r="7"/><circle cx="445.7" cy="584.4" r="7"/><circle cx="446.1" cy="584.3" r="7"/><circle cx="446.4" cy="584.7" r="7"/><circle cx="446.8" cy="584.8" r="7"/><circle cx="447.1" cy="585.1" r="7"/><circle cx="447.5" cy="585.0" r="7"/><circle cx="447.8" cy="584.8" r="7"/><circle cx="448.2" cy="584.6" r="7"/><circle cx="448.5" cy="584.5" r="7"/><circle cx="448.9" cy="584.5" r="7"/><circle cx="449.2" cy="584.4" r="7"/><circle cx="449.6" cy="584.5" r="7"/><circle cx="449.9" cy="584.0" r="7"/><circle cx="450.3" cy="584.5" r="7"/><circle cx="450.6" cy="584.5" r="7"/><circle cx="451.0" cy="585.0" r="7"/><circle cx="451.3" cy="584.6" r="7"/><circle cx="451.7" cy="584.3" r="7"/><circle cx="452.0" cy="584.5" r="7"/><circle cx="452.4" cy="584.1" r="7"/><circle cx="452.7" cy="584.2" r="7"/><circle cx="453.1" cy="583.9" r="7"/><circle cx="453.4" cy="584.5" r="7"/><circle cx="453.8" cy="584.3" r="7"/><circle cx="454.1" cy="583.9" r="7"/><circle cx="454.5" cy="584.1" r="7"/><circle cx="454.8" cy="584.3" r="7"/><circle cx="455.2" cy="584.3" r="7"/><circle cx="455.5" cy="584.2" r="7"/><circle cx="455.9" cy="584.0" r="7"/><circle cx="456.2" cy="584.1" r="7"/><circle cx="456.6" cy="584.3" r="7"/><circle cx="457.0" cy="584.5" r="7"/><circle cx="457.3" cy="584.1" r="7"/><circle cx="457.7" cy="584.1" r="7"/><circle cx="458.0" cy="584.5" r="7"/><circle cx="458.4" cy="584.1" r="7"/><circle cx="458.7" cy="584.5" r="7"/><circle cx="459.1" cy="584.3" r="7"/><circle cx="459.4" cy="584.4" r="7"/><circle cx="459.8" cy="584.5" r="7"/><circle cx="460.1" cy="584.3" r="7"/><circle cx="460.5" cy="584.3" r="7"/><circle cx="460.8" cy="583.9" r="7"/><circle cx="461.2" cy="583.9" r="7"/><circle cx="461.5" cy="584.2" r="7"/><circle cx="461.9" cy="584.3" r="7"/><circle cx="462.2" cy="584.3" r="7"/><circle cx="462.6" cy="584.5" r="7"/><circle cx="462.9" cy="584.2" r="7"/><circle cx="463.3" cy="584.2" r="7"/><circle cx="463.6" cy="584.5" r="7"/><circle cx="464.0" cy="584.4" r="7"/><circle cx="464.3" cy="584.5" r="7"/><circle cx="464.7" cy="584.4" r="7"/><circle cx="465.0" cy="584.9" r="7"/><circle cx="465.4" cy="584.6" r="7"/><circle cx="465.7" cy="585.1" r="7"/><circle cx="466.1" cy="584.8" r="7"/><circle cx="466.4" cy="585.4" r="7"/><circle cx="466.8" cy="585.1" r="7"/><circle cx="467.1" cy="585.6" r="7"/><circle cx="467.5" cy="585.2" r="7"/><circle cx="467.8" cy="585.4" r="7"/><circle cx="468.2" cy="585.8" r="7"/><circle cx="468.5" cy="585.4" r="7"/><circle cx="468.9" cy="585.5" r="7"/><circle cx="469.3" cy="585.4" r="7"/><circle cx="469.6" cy="585.0" r="7"/><circle cx="470.0" cy="585.4" r="7"/><circle cx="470.3" cy="585.4" r="7"/><circle cx="470.7" cy="585.0" r="7"/><circle cx="471.0" cy="585.2" r="7"/><circle cx="471.4" cy="584.9" r="7"/><circle cx="471.7" cy="584.8" r="7"/><circle cx="472.1" cy="584.9" r="7"/><circle cx="472.4" cy="584.8" r="7"/><circle cx="472.8" cy="585.3" r="7"/><circle cx="473.1" cy="584.5" r="7"/><circle cx="473.5" cy="585.0" r="7"/><circle cx="473.8" cy="585.1" r="7"/><circle cx="474.2" cy="584.5" r="7"/><circle cx="474.5" cy="584.5" r="7"/><circle cx="474.9" cy="585.0" r="7"/><circle cx="475.2" cy="584.7" r="7"/><circle cx="475.6" cy="584.9" r="7"/><circle cx="475.9" cy="585.0" r="7"/><circle cx="476.3" cy="584.6" r="7"/><circle cx="476.6" cy="584.4" r="7"/><circle cx="477.0" cy="584.0" r="7"/><circle cx="477.3" cy="584.5" r="7"/><circle cx="477.7" cy="584.2" r="7"/><circle cx="478.0" cy="584.4" r="7"/><circle cx="478.4" cy="584.4" r="7"/><circle cx="478.7" cy="584.0" r="7"/><circle cx="479.1" cy="584.6" r="7"/><circle cx="479.4" cy="584.5" r="7"/><circle cx="479.8" cy="584.4" r="7"/><circle cx="480.1" cy="584.1" r="7"/><circle cx="480.5" cy="584.3" r="7"/><circle cx="480.9" cy="584.4" r="7"/><circle cx="481.2" cy="584.5" r="7"/><circle cx="481.6" cy="584.5" r="7"/><circle cx="481.9" cy="585.0" r="7"/><circle cx="482.3" cy="585.1" r="7"/><circle cx="482.6" cy="585.3" r="7"/><circle cx="483.0" cy="585.2" r="7"/><circle cx="483.3" cy="585.7" r="7"/><circle cx="483.7" cy="585.6" r="7"/><circle cx="484.0" cy="585.1" r="7"/><circle cx="484.4" cy="585.6" r="7"/><circle cx="484.7" cy="585.7" r="7"/><circle cx="485.1" cy="585.9" r="7"/><circle cx="485.4" cy="585.6" r="7"/><circle cx="485.8" cy="585.6" r="7"/><circle cx="486.1" cy="585.4" r="7"/><circle cx="486.5" cy="585.6" r="7"/><circle cx="486.8" cy="585.3" r="7"/><circle cx="487.2" cy="585.2" r="7"/><circle cx="487.5" cy="585.1" r="7"/><circle cx="487.9" cy="585.3" r="7"/><circle cx="488.2" cy="584.9" r="7"/><circle cx="488.6" cy="584.6" r="7"/><circle cx="488.9" cy="585.0" r="7"/><circle cx="489.3" cy="584.6" r="7"/><circle cx="489.6" cy="584.7" r="7"/><circle cx="490.0" cy="584.7" r="7"/><circle cx="490.3" cy="584.7" r="7"/><circle cx="490.7" cy="584.6" r="7"/><circle cx="491.0" cy="584.2" r="7"/><circle cx="491.4" cy="584.2" r="7"/><circle cx="491.7" cy="583.9" r="7"/><circle cx="492.1" cy="584.4" r="7"/><circle cx="492.5" cy="584.1" r="7"/><circle cx="492.8" cy="584.3" r="7"/><circle cx="493.2" cy="583.9" r="7"/><circle cx="493.5" cy="583.5" r="7"/><circle cx="493.9" cy="584.2" r="7"/><circle cx="494.2" cy="583.9" r="7"/><circle cx="494.6" cy="583.9" r="7"/><circle cx="494.9" cy="583.8" r="7"/><circle cx="495.3" cy="584.0" r="7"/><circle cx="495.6" cy="584.0" r="7"/><circle cx="496.0" cy="583.6" r="7"/><circle cx="496.3" cy="584.1" r="7"/><circle cx="496.7" cy="583.9" r="7"/><circle cx="497.0" cy="584.0" r="7"/><circle cx="497.4" cy="584.5" r="7"/><circle cx="497.7" cy="584.4" r="7"/><circle cx="498.1" cy="584.3" r="7"/><circle cx="498.4" cy="584.1" r="7"/><circle cx="498.8" cy="584.6" r="7"/><circle cx="499.1" cy="584.8" r="7"/><circle cx="499.5" cy="584.9" r="7"/><circle cx="499.8" cy="584.7" r="7"/><circle cx="500.2" cy="585.0" r="7"/><circle cx="500.5" cy="585.0" r="7"/><circle cx="500.9" cy="585.3" r="7"/><circle cx="501.2" cy="585.5" r="7"/><circle cx="501.6" cy="585.6" r="7"/><circle cx="501.9" cy="585.2" r="7"/><circle cx="502.3" cy="585.4" r="7"/><circle cx="502.6" cy="585.5" r="7"/><circle cx="503.0" cy="585.2" r="7"/><circle cx="503.3" cy="585.2" r="7"/><circle cx="503.7" cy="585.6" r="7"/><circle cx="504.1" cy="585.1" r="7"/><circle cx="504.4" cy="585.2" r="7"/><circle cx="504.8" cy="584.9" r="7"/><circle cx="505.1" cy="584.9" r="7"/><circle cx="505.5" cy="584.6" r="7"/><circle cx="505.8" cy="584.9" r="7"/><circle cx="506.2" cy="585.1" r="7"/><circle cx="506.5" cy="585.3" r="7"/><circle cx="506.9" cy="585.1" r="7"/><circle cx="507.2" cy="585.0" r="7"/><circle cx="507.6" cy="584.8" r="7"/><circle cx="507.9" cy="584.7" r="7"/><circle cx="508.3" cy="584.8" r="7"/><circle cx="508.6" cy="584.9" r="7"/><circle cx="509.0" cy="584.6" r="7"/><circle cx="509.3" cy="585.0" r="7"/><circle cx="509.7" cy="584.6" r="7"/><circle cx="510.0" cy="584.5" r="7"/><circle cx="510.4" cy="584.7" r="7"/><circle cx="510.7" cy="584.6" r="7"/><circle cx="511.1" cy="584.7" r="7"/><circle cx="511.4" cy="585.3" r="7"/><circle cx="511.8" cy="585.1" r="7"/><circle cx="512.1" cy="585.3" r="7"/><circle cx="512.5" cy="585.6" r="7"/><circle cx="512.8" cy="585.7" r="7"/><circle cx="513.2" cy="585.4" r="7"/><circle cx="513.5" cy="585.9" r="7"/><circle cx="513.9" cy="585.8" r="7"/><circle cx="514.2" cy="585.8" r="7"/><circle cx="514.6" cy="586.0" r="7"/><circle cx="514.9" cy="585.6" r="7"/><circle cx="515.3" cy="585.8" r="7"/><circle cx="515.7" cy="585.9" r="7"/><circle cx="516.0" cy="586.1" r="7"/><circle cx="516.4" cy="585.8" r="7"/><circle cx="516.7" cy="585.9" r="7"/><circle cx="517.1" cy="586.0" r="7"/><circle cx="517.4" cy="586.1" r="7"/><circle cx="517.8" cy="585.9" r="7"/><circle cx="518.1" cy="585.9" r="7"/><circle cx="518.5" cy="585.5" r="7"/><circle cx="518.8" cy="585.5" r="7"/><circle cx="519.2" cy="585.5" r="7"/><circle cx="519.5" cy="585.3" r="7"/><circle cx="519.9" cy="585.2" r="7"/><circle cx="520.2" cy="585.5" r="7"/><circle cx="520.6" cy="585.1" r="7"/><circle cx="520.9" cy="584.9" r="7"/><circle cx="521.3" cy="585.1" r="7"/><circle cx="521.6" cy="585.3" r="7"/><circle cx="522.0" cy="585.0" r="7"/><circle cx="522.3" cy="585.2" r="7"/><circle cx="522.7" cy="584.8" r="7"/><circle cx="523.0" cy="584.8" r="7"/><circle cx="523.4" cy="584.8" r="7"/><circle cx="523.7" cy="584.9" r="7"/><circle cx="524.1" cy="585.3" r="7"/><circle cx="524.4" cy="584.8" r="7"/><circle cx="524.8" cy="585.4" r="7"/><circle cx="525.1" cy="584.9" r="7"/><circle cx="525.5" cy="585.2" r="7"/><circle cx="525.8" cy="585.5" r="7"/><circle cx="526.2" cy="585.5" r="7"/><circle cx="526.5" cy="585.5" r="7"/><circle cx="526.9" cy="585.2" r="7"/><circle cx="527.3" cy="585.7" r="7"/><circle cx="527.6" cy="585.6" r="7"/><circle cx="528.0" cy="586.4" r="7"/><circle cx="528.3" cy="585.9" r="7"/><circle cx="528.7" cy="586.1" r="7"/><circle cx="529.0" cy="585.9" r="7"/><circle cx="529.4" cy="586.1" r="7"/><circle cx="529.7" cy="586.0" r="7"/><circle cx="530.1" cy="586.5" r="7"/><circle cx="530.4" cy="586.2" r="7"/><circle cx="530.8" cy="586.4" r="7"/><circle cx="531.1" cy="586.2" r="7"/><circle cx="531.5" cy="586.2" r="7"/><circle cx="531.8" cy="586.5" r="7"/><circle cx="532.2" cy="586.1" r="7"/><circle cx="532.5" cy="585.9" r="7"/><circle cx="532.9" cy="586.3" r="7"/><circle cx="533.2" cy="585.9" r="7"/><circle cx="533.6" cy="586.0" r="7"/><circle cx="533.9" cy="586.2" r="7"/><circle cx="534.3" cy="585.9" r="7"/><circle cx="534.6" cy="586.2" r="7"/><circle cx="535.0" cy="585.8" r="7"/><circle cx="535.3" cy="586.2" r="7"/><circle cx="535.7" cy="586.1" r="7"/><circle cx="536.0" cy="585.8" r="7"/><circle cx="536.4" cy="585.8" r="7"/><circle cx="536.7" cy="585.6" r="7"/><circle cx="537.1" cy="585.8" r="7"/><circle cx="537.4" cy="586.0" r="7"/><circle cx="537.8" cy="585.4" r="7"/><circle cx="538.1" cy="585.9" r="7"/><circle cx="538.5" cy="585.4" r="7"/><circle cx="538.8" cy="585.4" r="7"/><circle cx="539.2" cy="585.2" r="7"/><circle cx="539.6" cy="585.9" r="7"/><circle cx="539.9" cy="585.4" r="7"/><circle cx="540.3" cy="585.4" r="7"/><circle cx="540.6" cy="585.2" r="7"/><circle cx="541.0" cy="585.5" r="7"/><circle cx="541.3" cy="584.8" r="7"/><circle cx="541.7" cy="585.2" r="7"/><circle cx="542.0" cy="585.6" r="7"/><circle cx="542.4" cy="585.0" r="7"/><circle cx="542.7" cy="585.1" r="7"/><circle cx="543.1" cy="585.2" r="7"/><circle cx="543.4" cy="584.9" r="7"/><circle cx="543.8" cy="585.1" r="7"/><circle cx="544.1" cy="585.3" r="7"/><circle cx="544.5" cy="585.2" r="7"/><circle cx="544.8" cy="585.3" r="7"/><circle cx="545.2" cy="585.2" r="7"/><circle cx="545.5" cy="585.4" r="7"/><circle cx="545.9" cy="585.5" r="7"/><circle cx="546.2" cy="585.9" r="7"/><circle cx="546.6" cy="585.8" r="7"/><circle cx="546.9" cy="585.7" r="7"/><circle cx="547.3" cy="585.3" r="7"/><circle cx="547.6" cy="586.0" r="7"/><circle cx="548.0" cy="586.1" r="7"/><circle cx="548.3" cy="585.8" r="7"/><circle cx="548.7" cy="585.6" r="7"/><circle cx="549.0" cy="585.8" r="7"/><circle cx="549.4" cy="586.2" r="7"/><circle cx="549.7" cy="585.8" r="7"/><circle cx="550.1" cy="585.8" r="7"/><circle cx="550.4" cy="585.9" r="7"/><circle cx="550.8" cy="586.0" r="7"/><circle cx="551.2" cy="585.6" r="7"/><circle cx="551.5" cy="585.4" r="7"/><circle cx="551.9" cy="585.1" r="7"/><circle cx="552.2" cy="585.4" r="7"/><circle cx="552.6" cy="585.1" r="7"/><circle cx="552.9" cy="584.7" r="7"/><circle cx="553.3" cy="584.2" r="7"/><circle cx="553.6" cy="584.2" r="7"/><circle cx="554.0" cy="584.3" r="7"/><circle cx="554.3" cy="583.9" r="7"/><circle cx="554.7" cy="584.1" r="7"/><circle cx="555.0" cy="583.9" r="7"/><circle cx="555.4" cy="583.8" r="7"/><circle cx="555.7" cy="583.9" r="7"/><circle cx="556.1" cy="583.9" r="7"/><circle cx="556.4" cy="583.6" r="7"/><circle cx="556.8" cy="583.8" r="7"/><circle cx="557.1" cy="584.4" r="7"/><circle cx="557.5" cy="583.7" r="7"/><circle cx="557.8" cy="583.9" r="7"/><circle cx="558.2" cy="584.3" r="7"/><circle cx="558.5" cy="584.2" r="7"/><circle cx="558.9" cy="584.1" r="7"/><circle cx="559.2" cy="584.0" r="7"/><circle cx="559.6" cy="584.5" r="7"/><circle cx="559.9" cy="584.6" r="7"/><circle cx="560.3" cy="584.7" r="7"/><circle cx="560.6" cy="584.4" r="7"/><circle cx="561.0" cy="584.6" r="7"/><circle cx="561.3" cy="584.2" r="7"/><circle cx="561.7" cy="584.4" r="7"/><circle cx="562.0" cy="584.3" r="7"/><circle cx="562.4" cy="584.4" r="7"/><circle cx="562.8" cy="584.5" r="7"/><circle cx="563.1" cy="584.6" r="7"/><circle cx="563.5" cy="584.2" r="7"/><circle cx="563.8" cy="584.7" r="7"/><circle cx="564.2" cy="584.4" r="7"/><circle cx="564.5" cy="584.3" r="7"/><circle cx="564.9" cy="584.5" r="7"/><circle cx="565.2" cy="584.3" r="7"/><circle cx="565.6" cy="584.7" r="7"/><circle cx="565.9" cy="584.8" r="7"/><circle cx="566.3" cy="584.8" r="7"/><circle cx="566.6" cy="585.1" r="7"/><circle cx="567.0" cy="585.0" r="7"/><circle cx="567.3" cy="585.1" r="7"/><circle cx="567.7" cy="584.9" r="7"/><circle cx="568.0" cy="585.3" r="7"/><circle cx="568.4" cy="585.2" r="7"/><circle cx="568.7" cy="585.4" r="7"/><circle cx="569.1" cy="585.5" r="7"/><circle cx="569.4" cy="585.6" r="7"/><circle cx="569.8" cy="585.3" r="7"/><circle cx="570.1" cy="585.3" r="7"/><circle cx="570.5" cy="585.6" r="7"/><circle cx="570.8" cy="585.7" r="7"/><circle cx="571.2" cy="585.7" r="7"/><circle cx="571.5" cy="585.7" r="7"/><circle cx="571.9" cy="585.7" r="7"/><circle cx="572.2" cy="585.5" r="7"/><circle cx="572.6" cy="585.3" r="7"/><circle cx="572.9" cy="585.0" r="7"/><circle cx="573.3" cy="584.9" r="7"/><circle cx="573.6" cy="584.9" r="7"/><circle cx="574.0" cy="585.0" r="7"/><circle cx="574.4" cy="584.9" r="7"/><circle cx="574.7" cy="584.7" r="7"/><circle cx="575.1" cy="584.6" r="7"/><circle cx="575.4" cy="584.7" r="7"/><circle cx="575.8" cy="584.6" r="7"/><circle cx="576.1" cy="584.6" r="7"/><circle cx="576.5" cy="584.5" r="7"/><circle cx="576.8" cy="584.3" r="7"/><circle cx="577.2" cy="584.2" r="7"/><circle cx="577.5" cy="584.5" r="7"/><circle cx="577.9" cy="584.4" r="7"/><circle cx="578.2" cy="584.3" r="7"/><circle cx="578.6" cy="584.2" r="7"/><circle cx="578.9" cy="584.7" r="7"/><circle cx="579.3" cy="584.0" r="7"/><circle cx="579.6" cy="584.1" r="7"/><circle cx="580.0" cy="584.1" r="7"/><circle cx="580.3" cy="583.8" r="7"/><circle cx="580.7" cy="584.0" r="7"/><circle cx="581.0" cy="584.2" r="7"/><circle cx="581.4" cy="584.0" r="7"/><circle cx="581.7" cy="583.9" r="7"/><circle cx="582.1" cy="583.8" r="7"/><circle cx="582.4" cy="583.6" r="7"/><circle cx="582.8" cy="583.7" r="7"/><circle cx="583.1" cy="583.4" r="7"/><circle cx="583.5" cy="583.2" r="7"/><circle cx="583.8" cy="583.1" r="7"/><circle cx="584.2" cy="583.0" r="7"/><circle cx="584.5" cy="582.6" r="7"/><circle cx="584.9" cy="582.4" r="7"/><circle cx="585.2" cy="581.5" r="7"/><circle cx="585.6" cy="581.7" r="7"/><circle cx="586.0" cy="581.4" r="7"/><circle cx="586.3" cy="580.6" r="7"/><circle cx="586.7" cy="579.5" r="7"/><circle cx="587.0" cy="578.4" r="7"/><circle cx="587.4" cy="577.4" r="7"/><circle cx="587.7" cy="575.7" r="7"/><circle cx="588.1" cy="574.1" r="7"/><circle cx="588.4" cy="571.5" r="7"/><circle cx="588.8" cy="568.8" r="7"/><circle cx="589.1" cy="565.4" r="7"/><circle cx="589.5" cy="560.4" r="7"/><circle cx="589.8" cy="556.0" r="7"/><circle cx="590.2" cy="550.3" r="7"/><circle cx="590.5" cy="544.0" r="7"/><circle cx="590.9" cy="537.7" r="7"/><circle cx="591.2" cy="531.3" r="7"/><circle cx="591.6" cy="525.3" r="7"/><circle cx="591.9" cy="519.2" r="7"/><circle cx="592.3" cy="515.4" r="7"/><circle cx="592.6" cy="512.7" r="7"/><circle cx="593.0" cy="511.2" r="7"/><circle cx="593.3" cy="511.6" r="7"/><circle cx="593.7" cy="513.2" r="7"/><circle cx="594.0" cy="515.8" r="7"/><circle cx="594.4" cy="520.0" r="7"/><circle cx="594.7" cy="524.5" r="7"/><circle cx="595.1" cy="529.7" r="7"/><circle cx="595.4" cy="535.8" r="7"/><circle cx="595.8" cy="541.2" r="7"/><circle cx="596.1" cy="546.9" r="7"/><circle cx="596.5" cy="552.7" r="7"/><circle cx="596.8" cy="557.1" r="7"/><circle cx="597.2" cy="561.7" r="7"/><circle cx="597.6" cy="565.7" r="7"/><circle cx="597.9" cy="569.0" r="7"/><circle cx="598.3" cy="572.1" r="7"/><circle cx="598.6" cy="574.2" r="7"/><circle cx="599.0" cy="576.4" r="7"/><circle cx="599.3" cy="577.8" r="7"/><circle cx="599.7" cy="578.9" r="7"/><circle cx="600.0" cy="579.6" r="7"/><circle cx="600.4" cy="580.5" r="7"/><circle cx="600.7" cy="581.1" r="7"/><circle cx="601.1" cy="581.2" r="7"/><circle cx="601.4" cy="581.9" r="7"/><circle cx="601.8" cy="582.3" r="7"/><circle cx="602.1" cy="582.5" r="7"/><circle cx="602.5" cy="583.1" r="7"/><circle cx="602.8" cy="583.2" r="7"/><circle cx="603.2" cy="583.0" r="7"/><circle cx="603.5" cy="583.4" r="7"/><circle cx="603.9" cy="583.4" r="7"/><circle cx="604.2" cy="583.8" r="7"/><circle cx="604.6" cy="583.7" r="7"/><circle cx="604.9" cy="584.1" r="7"/><circle cx="605.3" cy="584.1" r="7"/><circle cx="605.6" cy="584.3" r="7"/><circle cx="606.0" cy="584.2" r="7"/><circle cx="606.3" cy="584.0" r="7"/><circle cx="606.7" cy="584.7" r="7"/><circle cx="607.0" cy="584.5" r="7"/><circle cx="607.4" cy="584.9" r="7"/><circle cx="607.7" cy="584.8" r="7"/><circle cx="608.1" cy="585.0" r="7"/><circle cx="608.4" cy="585.4" r="7"/><circle cx="608.8" cy="585.3" r="7"/><circle cx="609.1" cy="585.7" r="7"/><circle cx="609.5" cy="585.3" r="7"/><circle cx="609.9" cy="585.9" r="7"/><circle cx="610.2" cy="585.8" r="7"/><circle cx="610.6" cy="586.0" r="7"/><circle cx="610.9" cy="586.1" r="7"/><circle cx="611.3" cy="586.3" r="7"/><circle cx="611.6" cy="586.6" r="7"/><circle cx="612.0" cy="585.9" r="7"/><circle cx="612.3" cy="586.3" r="7"/><circle cx="612.7" cy="586.1" r="7"/><circle cx="613.0" cy="586.4" r="7"/><circle cx="613.4" cy="586.0" r="7"/><circle cx="613.7" cy="586.1" r="7"/><circle cx="614.1" cy="585.9" r="7"/><circle cx="614.4" cy="586.0" r="7"/><circle cx="614.8" cy="586.0" r="7"/><circle cx="615.1" cy="585.6" r="7"/><circle cx="615.5" cy="585.6" r="7"/><circle cx="615.8" cy="585.3" r="7"/><circle cx="616.2" cy="585.6" r="7"/><circle cx="616.5" cy="585.7" r="7"/><circle cx="616.9" cy="585.4" r="7"/><circle cx="617.2" cy="585.8" r="7"/><circle cx="617.6" cy="585.1" r="7"/><circle cx="617.9" cy="585.2" r="7"/><circle cx="618.3" cy="585.3" r="7"/><circle cx="618.6" cy="585.6" r="7"/><circle cx="619.0" cy="585.7" r="7"/><circle cx="619.3" cy="585.7" r="7"/><circle cx="619.7" cy="585.7" r="7"/><circle cx="620.0" cy="585.9" r="7"/><circle cx="620.4" cy="585.7" r="7"/><circle cx="620.7" cy="585.5" r="7"/><circle cx="621.1" cy="585.5" r="7"/><circle cx="621.5" cy="586.1" r="7"/><circle cx="621.8" cy="585.2" r="7"/><circle cx="622.2" cy="585.6" r="7"/><circle cx="622.5" cy="585.9" r="7"/><circle cx="622.9" cy="585.7" r="7"/><circle cx="623.2" cy="585.3" r="7"/><circle cx="623.6" cy="585.4" r="7"/><circle cx="623.9" cy="585.5" r="7"/><circle cx="624.3" cy="585.5" r="7"/><circle cx="624.6" cy="585.0" r="7"/><circle cx="625.0" cy="585.2" r="7"/><circle cx="625.3" cy="585.1" r="7"/><circle cx="625.7" cy="585.2" r="7"/><circle cx="626.0" cy="585.2" r="7"/><circle cx="626.4" cy="584.8" r="7"/><circle cx="626.7" cy="584.5" r="7"/><circle cx="627.1" cy="584.9" r="7"/><circle cx="627.4" cy="585.1" r="7"/><circle cx="627.8" cy="584.9" r="7"/><circle cx="628.1" cy="584.9" r="7"/><circle cx="628.5" cy="585.4" r="7"/><circle cx="628.8" cy="584.8" r="7"/><circle cx="629.2" cy="585.2" r="7"/><circle cx="629.5" cy="585.0" r="7"/><circle cx="629.9" cy="585.2" r="7"/><circle cx="630.2" cy="585.3" r="7"/><circle cx="630.6" cy="585.7" r="7"/><circle cx="630.9" cy="585.3" r="7"/><circle cx="631.3" cy="585.4" r="7"/><circle cx="631.6" cy="585.3" r="7"/><circle cx="632.0" cy="585.7" r="7"/><circle cx="632.3" cy="585.5" r="7"/><circle cx="632.7" cy="585.7" r="7"/><circle cx="633.1" cy="585.3" r="7"/><circle cx="633.4" cy="585.5" r="7"/><circle cx="633.8" cy="585.7" r="7"/><circle cx="634.1" cy="585.4" r="7"/><circle cx="634.5" cy="585.5" r="7"/><circle cx="634.8" cy="585.4" r="7"/><circle cx="635.2" cy="585.2" r="7"/><circle cx="635.5" cy="584.9" r="7"/><circle cx="635.9" cy="585.4" r="7"/><circle cx="636.2" cy="585.3" r="7"/><circle cx="636.6" cy="585.4" r="7"/><circle cx="636.9" cy="584.8" r="7"/><circle cx="637.3" cy="584.9" r="7"/><circle cx="637.6" cy="584.9" r="7"/><circle cx="638.0" cy="585.2" r="7"/><circle cx="638.3" cy="585.6" r="7"/><circle cx="638.7" cy="585.5" r="7"/><circle cx="639.0" cy="585.4" r="7"/><circle cx="639.4" cy="585.5" r="7"/><circle cx="639.7" cy="585.6" r="7"/><circle cx="640.1" cy="585.4" r="7"/><circle cx="640.4" cy="585.4" r="7"/><circle cx="640.8" cy="585.3" r="7"/><circle cx="641.1" cy="584.7" r="7"/><circle cx="641.5" cy="585.0" r="7"/><circle cx="641.8" cy="585.2" r="7"/><circle cx="642.2" cy="584.8" r="7"/><circle cx="642.5" cy="584.7" r="7"/><circle cx="642.9" cy="584.5" r="7"/><circle cx="643.2" cy="584.4" r="7"/><circle cx="643.6" cy="584.6" r="7"/><circle cx="643.9" cy="584.3" r="7"/><circle cx="644.3" cy="584.1" r="7"/><circle cx="644.7" cy="583.7" r="7"/><circle cx="645.0" cy="584.2" r="7"/><circle cx="645.4" cy="583.9" r="7"/><circle cx="645.7" cy="583.9" r="7"/><circle cx="646.1" cy="584.5" r="7"/><circle cx="646.4" cy="584.5" r="7"/><circle cx="646.8" cy="584.0" r="7"/><circle cx="647.1" cy="584.5" r="7"/><circle cx="647.5" cy="584.4" r="7"/><circle cx="647.8" cy="584.2" r="7"/><circle cx="648.2" cy="584.5" r="7"/><circle cx="648.5" cy="584.0" r="7"/><circle cx="648.9" cy="584.0" r="7"/><circle cx="649.2" cy="583.9" r="7"/><circle cx="649.6" cy="584.0" r="7"/><circle cx="649.9" cy="584.4" r="7"/><circle cx="650.3" cy="583.9" r="7"/><circle cx="650.6" cy="584.0" r="7"/><circle cx="651.0" cy="584.0" r="7"/><circle cx="651.3" cy="584.3" r="7"/><circle cx="651.7" cy="584.2" r="7"/><circle cx="652.0" cy="584.5" r="7"/><circle cx="652.4" cy="584.3" r="7"/><circle cx="652.7" cy="584.2" r="7"/><circle cx="653.1" cy="584.5" r="7"/><circle cx="653.4" cy="584.7" r="7"/><circle cx="653.8" cy="584.6" r="7"/><circle cx="654.1" cy="584.9" r="7"/><circle cx="654.5" cy="585.2" r="7"/><circle cx="654.8" cy="584.8" r="7"/><circle cx="655.2" cy="585.0" r="7"/><circle cx="655.5" cy="585.3" r="7"/><circle cx="655.9" cy="584.9" r="7"/><circle cx="656.3" cy="584.9" r="7"/><circle cx="656.6" cy="584.9" r="7"/><circle cx="657.0" cy="585.2" r="7"/><circle cx="657.3" cy="585.2" r="7"/><circle cx="657.7" cy="585.1" r="7"/><circle cx="658.0" cy="585.2" r="7"/><circle cx="658.4" cy="585.5" r="7"/><circle cx="658.7" cy="585.4" r="7"/><circle cx="659.1" cy="585.0" r="7"/><circle cx="659.4" cy="585.4" r="7"/><circle cx="659.8" cy="585.4" r="7"/><circle cx="660.1" cy="585.6" r="7"/><circle cx="660.5" cy="585.5" r="7"/><circle cx="660.8" cy="585.4" r="7"/><circle cx="661.2" cy="585.4" r="7"/><circle cx="661.5" cy="585.2" r="7"/><circle cx="661.9" cy="585.5" r="7"/><circle cx="662.2" cy="585.4" r="7"/><circle cx="662.6" cy="585.5" r="7"/><circle cx="662.9" cy="585.1" r="7"/><circle cx="663.3" cy="585.2" r="7"/><circle cx="663.6" cy="585.0" r="7"/><circle cx="664.0" cy="584.9" r="7"/><circle cx="664.3" cy="585.1" r="7"/><circle cx="664.7" cy="584.8" r="7"/><circle cx="665.0" cy="584.9" r="7"/><circle cx="665.4" cy="584.5" r="7"/><circle cx="665.7" cy="584.6" r="7"/><circle cx="666.1" cy="584.2" r="7"/><circle cx="666.4" cy="584.4" r="7"/><circle cx="666.8" cy="584.4" r="7"/><circle cx="667.1" cy="584.6" r="7"/><circle cx="667.5" cy="584.5" r="7"/><circle cx="667.9" cy="584.5" r="7"/><circle cx="668.2" cy="584.7" r="7"/><circle cx="668.6" cy="584.6" r="7"/><circle cx="668.9" cy="584.6" r="7"/><circle cx="669.3" cy="584.7" r="7"/><circle cx="669.6" cy="584.5" r="7"/><circle cx="670.0" cy="584.5" r="7"/><circle cx="670.3" cy="584.5" r="7"/><circle cx="670.7" cy="584.4" r="7"/><circle cx="671.0" cy="584.5" r="7"/><circle cx="671.4" cy="584.5" r="7"/><circle cx="671.7" cy="584.4" r="7"/><circle cx="672.1" cy="584.1" r="7"/><circle cx="672.4" cy="583.8" r="7"/><circle cx="672.8" cy="583.9" r="7"/><circle cx="673.1" cy="583.8" r="7"/><circle cx="673.5" cy="584.0" r="7"/><circle cx="673.8" cy="583.6" r="7"/><circle cx="674.2" cy="583.5" r="7"/><circle cx="674.5" cy="583.7" r="7"/><circle cx="674.9" cy="583.4" r="7"/><circle cx="675.2" cy="583.4" r="7"/><circle cx="675.6" cy="583.8" r="7"/><circle cx="675.9" cy="583.8" r="7"/><circle cx="676.3" cy="583.6" r="7"/><circle cx="676.6" cy="583.6" r="7"/><circle cx="677.0" cy="583.4" r="7"/><circle cx="677.3" cy="583.8" r="7"/><circle cx="677.7" cy="583.8" r="7"/><circle cx="678.0" cy="584.0" r="7"/><circle cx="678.4" cy="583.9" r="7"/><circle cx="678.7" cy="584.2" r="7"/><circle cx="679.1" cy="584.3" r="7"/><circle cx="679.4" cy="584.5" r="7"/><circle cx="679.8" cy="584.9" r="7"/><circle cx="680.2" cy="584.9" r="7"/><circle cx="680.5" cy="584.6" r="7"/><circle cx="680.9" cy="584.9" r="7"/><circle cx="681.2" cy="585.0" r="7"/><circle cx="681.6" cy="585.3" r="7"/><circle cx="681.9" cy="585.7" r="7"/><circle cx="682.3" cy="585.7" r="7"/><circle cx="682.6" cy="585.6" r="7"/><circle cx="683.0" cy="585.8" r="7"/><circle cx="683.3" cy="585.7" r="7"/><circle cx="683.7" cy="585.5" r="7"/><circle cx="684.0" cy="585.5" r="7"/><circle cx="684.4" cy="585.6" r="7"/><circle cx="684.7" cy="585.9" r="7"/><circle cx="685.1" cy="585.3" r="7"/><circle cx="685.4" cy="585.7" r="7"/><circle cx="685.8" cy="585.6" r="7"/><circle cx="686.1" cy="585.2" r="7"/><circle cx="686.5" cy="585.1" r="7"/><circle cx="686.8" cy="584.8" r="7"/><circle cx="687.2" cy="584.9" r="7"/><circle cx="687.5" cy="584.9" r="7"/><circle cx="687.9" cy="584.7" r="7"/><circle cx="688.2" cy="584.8" r="7"/><circle cx="688.6" cy="584.8" r="7"/><circle cx="688.9" cy="584.6" r="7"/><circle cx="689.3" cy="584.6" r="7"/><circle cx="689.6" cy="584.5" r="7"/><circle cx="690.0" cy="584.6" r="7"/><circle cx="690.3" cy="584.3" r="7"/><circle cx="690.7" cy="584.7" r="7"/><circle cx="691.0" cy="584.7" r="7"/><circle cx="691.4" cy="584.5" r="7"/><circle cx="691.8" cy="585.2" r="7"/><circle cx="692.1" cy="584.6" r="7"/><circle cx="692.5" cy="584.7" r="7"/><circle cx="692.8" cy="585.0" r="7"/><circle cx="693.2" cy="584.6" r="7"/><circle cx="693.5" cy="584.9" r="7"/><circle cx="693.9" cy="584.8" r="7"/><circle cx="694.2" cy="585.0" r="7"/><circle cx="694.6" cy="585.2" r="7"/><circle cx="694.9" cy="585.4" r="7"/><circle cx="695.3" cy="585.6" r="7"/><circle cx="695.6" cy="585.5" r="7"/><circle cx="696.0" cy="585.6" r="7"/><circle cx="696.3" cy="585.5" r="7"/><circle cx="696.7" cy="585.4" r="7"/><circle cx="697.0" cy="585.7" r="7"/><circle cx="697.4" cy="585.4" r="7"/><circle cx="697.7" cy="585.4" r="7"/><circle cx="698.1" cy="585.8" r="7"/><circle cx="698.4" cy="585.7" r="7"/><circle cx="698.8" cy="585.6" r="7"/><circle cx="699.1" cy="585.7" r="7"/><circle cx="699.5" cy="585.8" r="7"/><circle cx="699.8" cy="585.4" r="7"/><circle cx="700.2" cy="585.6" r="7"/><circle cx="700.5" cy="585.4" r="7"/><circle cx="700.9" cy="585.7" r="7"/><circle cx="701.2" cy="585.5" r="7"/><circle cx="701.6" cy="585.9" r="7"/><circle cx="701.9" cy="585.7" r="7"/><circle cx="702.3" cy="585.4" r="7"/><circle cx="702.6" cy="585.5" r="7"/><circle cx="703.0" cy="585.2" r="7"/><circle cx="703.4" cy="585.5" r="7"/><circle cx="703.7" cy="585.5" r="7"/><circle cx="704.1" cy="585.4" r="7"/><circle cx="704.4" cy="584.9" r="7"/><circle cx="704.8" cy="585.2" r="7"/><circle cx="705.1" cy="585.4" r="7"/><circle cx="705.5" cy="585.3" r="7"/><circle cx="705.8" cy="585.4" r="7"/><circle cx="706.2" cy="584.9" r="7"/><circle cx="706.5" cy="585.2" r="7"/><circle cx="706.9" cy="584.9" r="7"/><circle cx="707.2" cy="585.0" r="7"/><circle cx="707.6" cy="584.9" r="7"/><circle cx="707.9" cy="584.9" r="7"/><circle cx="708.3" cy="584.5" r="7"/><circle cx="708.6" cy="584.6" r="7"/><circle cx="709.0" cy="584.2" r="7"/><circle cx="709.3" cy="584.0" r="7"/><circle cx="709.7" cy="584.3" r="7"/><circle cx="710.0" cy="584.0" r="7"/><circle cx="710.4" cy="583.6" r="7"/><circle cx="710.7" cy="583.6" r="7"/><circle cx="711.1" cy="583.7" r="7"/><circle cx="711.4" cy="584.0" r="7"/><circle cx="711.8" cy="583.9" r="7"/><circle cx="712.1" cy="583.8" r="7"/><circle cx="712.5" cy="583.3" r="7"/><circle cx="712.8" cy="583.7" r="7"/><circle cx="713.2" cy="583.9" r="7"/><circle cx="713.5" cy="584.0" r="7"/><circle cx="713.9" cy="584.1" r="7"/><circle cx="714.2" cy="584.1" r="7"/><circle cx="714.6" cy="584.7" r="7"/><circle cx="715.0" cy="584.8" r="7"/><circle cx="715.3" cy="584.6" r="7"/><circle cx="715.7" cy="584.6" r="7"/><circle cx="716.0" cy="585.4" r="7"/><circle cx="716.4" cy="585.0" r="7"/><circle cx="716.7" cy="585.5" r="7"/><circle cx="717.1" cy="585.7" r="7"/><circle cx="717.4" cy="585.3" r="7"/><circle cx="717.8" cy="585.6" r="7"/><circle cx="718.1" cy="585.6" r="7"/><circle cx="718.5" cy="585.8" r="7"/><circle cx="718.8" cy="585.8" r="7"/><circle cx="719.2" cy="586.2" r="7"/><circle cx="719.5" cy="585.9" r="7"/><circle cx="719.9" cy="585.8" r="7"/><circle cx="720.2" cy="586.0" r="7"/><circle cx="720.6" cy="585.7" r="7"/><circle cx="720.9" cy="585.6" r="7"/><circle cx="721.3" cy="586.0" r="7"/><circle cx="721.6" cy="585.3" r="7"/><circle cx="722.0" cy="585.2" r="7"/><circle cx="722.3" cy="585.2" r="7"/><circle cx="722.7" cy="584.8" r="7"/><circle cx="723.0" cy="584.5" r="7"/><circle cx="723.4" cy="585.0" r="7"/><circle cx="723.7" cy="584.5" r="7"/><circle cx="724.1" cy="584.4" r="7"/><circle cx="724.4" cy="584.3" r="7"/><circle cx="724.8" cy="584.1" r="7"/><circle cx="725.1" cy="584.0" r="7"/><circle cx="725.5" cy="584.2" r="7"/><circle cx="725.8" cy="584.6" r="7"/><circle cx="726.2" cy="584.2" r="7"/><circle cx="726.6" cy="584.2" r="7"/><circle cx="726.9" cy="583.8" r="7"/><circle cx="727.3" cy="584.1" r="7"/><circle cx="727.6" cy="584.0" r="7"/><circle cx="728.0" cy="584.4" r="7"/><circle cx="728.3" cy="584.4" r="7"/><circle cx="728.7" cy="584.5" r="7"/><circle cx="729.0" cy="584.6" r="7"/><circle cx="729.4" cy="584.7" r="7"/><circle cx="729.7" cy="584.6" r="7"/><circle cx="730.1" cy="585.2" r="7"/><circle cx="730.4" cy="585.0" r="7"/><circle cx="730.8" cy="585.2" r="7"/><circle cx="731.1" cy="585.5" r="7"/><circle cx="731.5" cy="585.5" r="7"/><circle cx="731.8" cy="585.8" r="7"/><circle cx="732.2" cy="586.1" r="7"/><circle cx="732.5" cy="586.0" r="7"/><circle cx="732.9" cy="586.0" r="7"/><circle cx="733.2" cy="586.1" r="7"/><circle cx="733.6" cy="586.2" r="7"/><circle cx="733.9" cy="585.7" r="7"/><circle cx="734.3" cy="586.2" r="7"/><circle cx="734.6" cy="585.9" r="7"/><circle cx="735.0" cy="585.8" r="7"/><circle cx="735.3" cy="586.0" r="7"/><circle cx="735.7" cy="585.8" r="7"/><circle cx="736.0" cy="586.0" r="7"/><circle cx="736.4" cy="586.0" r="7"/><circle cx="736.7" cy="585.3" r="7"/><circle cx="737.1" cy="585.6" r="7"/><circle cx="737.4" cy="586.0" r="7"/><circle cx="737.8" cy="585.7" r="7"/><circle cx="738.2" cy="585.7" r="7"/><circle cx="738.5" cy="585.4" r="7"/><circle cx="738.9" cy="585.0" r="7"/><circle cx="739.2" cy="585.0" r="7"/><circle cx="739.6" cy="585.3" r="7"/><circle cx="739.9" cy="585.3" r="7"/><circle cx="740.3" cy="584.9" r="7"/><circle cx="740.6" cy="584.9" r="7"/><circle cx="741.0" cy="584.9" r="7"/><circle cx="741.3" cy="584.4" r="7"/><circle cx="741.7" cy="584.6" r="7"/><circle cx="742.0" cy="584.9" r="7"/><circle cx="742.4" cy="585.0" r="7"/><circle cx="742.7" cy="584.4" r="7"/><circle cx="743.1" cy="584.7" r="7"/><circle cx="743.4" cy="584.2" r="7"/><circle cx="743.8" cy="584.0" r="7"/><circle cx="744.1" cy="583.7" r="7"/><circle cx="744.5" cy="584.3" r="7"/><circle cx="744.8" cy="584.0" r="7"/><circle cx="745.2" cy="584.5" r="7"/><circle cx="745.5" cy="584.0" r="7"/><circle cx="745.9" cy="584.0" r="7"/><circle cx="746.2" cy="583.5" r="7"/><circle cx="746.6" cy="584.2" r="7"/><circle cx="746.9" cy="583.7" r="7"/><circle cx="747.3" cy="583.7" r="7"/><circle cx="747.6" cy="583.2" r="7"/><circle cx="748.0" cy="583.8" r="7"/><circle cx="748.3" cy="583.6" r="7"/><circle cx="748.7" cy="583.2" r="7"/><circle cx="749.0" cy="583.2" r="7"/><circle cx="749.4" cy="583.1" r="7"/><circle cx="749.7" cy="583.0" r="7"/><circle cx="750.1" cy="582.6" r="7"/><circle cx="750.5" cy="582.7" r="7"/><circle cx="750.8" cy="582.1" r="7"/><circle cx="751.2" cy="581.8" r="7"/><circle cx="751.5" cy="581.5" r="7"/><circle cx="751.9" cy="580.8" r="7"/><circle cx="752.2" cy="580.7" r="7"/><circle cx="752.6" cy="580.5" r="7"/><circle cx="752.9" cy="579.7" r="7"/><circle cx="753.3" cy="578.5" r="7"/><circle cx="753.6" cy="577.5" r="7"/><circle cx="754.0" cy="575.3" r="7"/><circle cx="754.3" cy="573.4" r="7"/><circle cx="754.7" cy="570.7" r="7"/><circle cx="755.0" cy="567.0" r="7"/><circle cx="755.4" cy="562.1" r="7"/><circle cx="755.7" cy="556.9" r="7"/><circle cx="756.1" cy="550.5" r="7"/><circle cx="756.4" cy="542.5" r="7"/><circle cx="756.8" cy="534.2" r="7"/><circle cx="757.1" cy="524.7" r="7"/><circle cx="757.5" cy="515.1" r="7"/><circle cx="757.8" cy="506.2" r="7"/><circle cx="758.2" cy="497.3" r="7"/><circle cx="758.5" cy="489.8" r="7"/><circle cx="758.9" cy="484.0" r="7"/><circle cx="759.2" cy="480.5" r="7"/><circle cx="759.6" cy="479.6" r="7"/><circle cx="759.9" cy="480.6" r="7"/><circle cx="760.3" cy="482.7" r="7"/><circle cx="760.6" cy="486.1" r="7"/><circle cx="761.0" cy="491.3" r="7"/><circle cx="761.3" cy="496.5" r="7"/><circle cx="761.7" cy="502.6" r="7"/><circle cx="762.1" cy="509.2" r="7"/><circle cx="762.4" cy="516.9" r="7"/><circle cx="762.8" cy="524.0" r="7"/><circle cx="763.1" cy="531.6" r="7"/><circle cx="763.5" cy="538.3" r="7"/><circle cx="763.8" cy="545.3" r="7"/><circle cx="764.2" cy="551.5" r="7"/><circle cx="764.5" cy="557.0" r="7"/><circle cx="764.9" cy="561.8" r="7"/><circle cx="765.2" cy="565.6" r="7"/><circle cx="765.6" cy="569.5" r="7"/><circle cx="765.9" cy="571.7" r="7"/><circle cx="766.3" cy="574.1" r="7"/><circle cx="766.6" cy="576.0" r="7"/><circle cx="767.0" cy="577.1" r="7"/><circle cx="767.3" cy="578.6" r="7"/><circle cx="767.7" cy="579.5" r="7"/><circle cx="768.0" cy="580.0" r="7"/><circle cx="768.4" cy="581.0" r="7"/><circle cx="768.7" cy="581.0" r="7"/><circle cx="769.1" cy="581.4" r="7"/><circle cx="769.4" cy="581.5" r="7"/><circle cx="769.8" cy="581.6" r="7"/><circle cx="770.1" cy="582.0" r="7"/><circle cx="770.5" cy="582.2" r="7"/><circle cx="770.8" cy="582.3" r="7"/><circle cx="771.2" cy="582.6" r="7"/><circle cx="771.5" cy="582.1" r="7"/><circle cx="771.9" cy="582.4" r="7"/><circle cx="772.2" cy="582.3" r="7"/><circle cx="772.6" cy="583.0" r="7"/><circle cx="772.9" cy="582.6" r="7"/><circle cx="773.3" cy="582.7" r="7"/><circle cx="773.7" cy="582.7" r="7"/><circle cx="774.0" cy="583.1" r="7"/><circle cx="774.4" cy="583.0" r="7"/><circle cx="774.7" cy="583.2" r="7"/><circle cx="775.1" cy="582.9" r="7"/><circle cx="775.4" cy="583.7" r="7"/><circle cx="775.8" cy="583.7" r="7"/><circle cx="776.1" cy="583.9" r="7"/><circle cx="776.5" cy="584.2" r="7"/><circle cx="776.8" cy="584.1" r="7"/><circle cx="777.2" cy="584.2" r="7"/><circle cx="777.5" cy="584.5" r="7"/><circle cx="777.9" cy="584.6" r="7"/><circle cx="778.2" cy="584.6" r="7"/><circle cx="778.6" cy="584.7" r="7"/><circle cx="778.9" cy="584.7" r="7"/><circle cx="779.3" cy="584.9" r="7"/><circle cx="779.6" cy="585.0" r="7"/><circle cx="780.0" cy="584.8" r="7"/><circle cx="780.3" cy="585.2" r="7"/><circle cx="780.7" cy="584.4" r="7"/><circle cx="781.0" cy="584.6" r="7"/><circle cx="781.4" cy="584.9" r="7"/><circle cx="781.7" cy="584.4" r="7"/><circle cx="782.1" cy="584.1" r="7"/><circle cx="782.4" cy="584.6" r="7"/><circle cx="782.8" cy="584.3" r="7"/><circle cx="783.1" cy="583.8" r="7"/><circle cx="783.5" cy="584.1" r="7"/><circle cx="783.8" cy="583.7" r="7"/><circle cx="784.2" cy="583.5" r="7"/><circle cx="784.5" cy="583.7" r="7"/><circle cx="784.9" cy="583.6" r="7"/><circle cx="785.3" cy="583.4" r="7"/><circle cx="785.6" cy="583.6" r="7"/><circle cx="786.0" cy="583.4" r="7"/><circle cx="786.3" cy="583.6" r="7"/><circle cx="786.7" cy="583.6" r="7"/><circle cx="787.0" cy="583.8" r="7"/><circle cx="787.4" cy="583.7" r="7"/><circle cx="787.7" cy="583.5" r="7"/><circle cx="788.1" cy="583.6" r="7"/><circle cx="788.4" cy="583.9" r="7"/><circle cx="788.8" cy="584.4" r="7"/><circle cx="789.1" cy="584.3" r="7"/><circle cx="789.5" cy="584.1" r="7"/><circle cx="789.8" cy="584.6" r="7"/><circle cx="790.2" cy="584.2" r="7"/><circle cx="790.5" cy="584.8" r="7"/><circle cx="790.9" cy="584.6" r="7"/><circle cx="791.2" cy="584.9" r="7"/><circle cx="791.6" cy="584.9" r="7"/><circle cx="791.9" cy="584.7" r="7"/><circle cx="792.3" cy="584.9" r="7"/><circle cx="792.6" cy="584.6" r="7"/><circle cx="793.0" cy="584.8" r="7"/><circle cx="793.3" cy="585.0" r="7"/><circle cx="793.7" cy="585.6" r="7"/><circle cx="794.0" cy="584.9" r="7"/><circle cx="794.4" cy="584.7" r="7"/><circle cx="794.7" cy="584.4" r="7"/><circle cx="795.1" cy="584.8" r="7"/><circle cx="795.4" cy="584.2" r="7"/><circle cx="795.8" cy="584.3" r="7"/><circle cx="796.1" cy="584.5" r="7"/><circle cx="796.5" cy="584.1" r="7"/><circle cx="796.9" cy="584.7" r="7"/><circle cx="797.2" cy="584.6" r="7"/><circle cx="797.6" cy="584.2" r="7"/><circle cx="797.9" cy="584.3" r="7"/><circle cx="798.3" cy="584.2" r="7"/><circle cx="798.6" cy="584.2" r="7"/><circle cx="799.0" cy="584.6" r="7"/><circle cx="799.3" cy="584.7" r="7"/><circle cx="799.7" cy="584.8" r="7"/><circle cx="800.0" cy="584.8" r="7"/><circle cx="800.4" cy="584.8" r="7"/><circle cx="800.7" cy="585.0" r="7"/><circle cx="801.1" cy="584.8" r="7"/><circle cx="801.4" cy="585.1" r="7"/><circle cx="801.8" cy="585.5" r="7"/><circle cx="802.1" cy="585.6" r="7"/><circle cx="802.5" cy="585.2" r="7"/><circle cx="802.8" cy="585.3" r="7"/><circle cx="803.2" cy="585.6" r="7"/><circle cx="803.5" cy="585.7" r="7"/><circle cx="803.9" cy="585.0" r="7"/><circle cx="804.2" cy="585.2" r="7"/><circle cx="804.6" cy="585.2" r="7"/><circle cx="804.9" cy="585.3" r="7"/><circle cx="805.3" cy="584.8" r="7"/><circle cx="805.6" cy="585.0" r="7"/><circle cx="806.0" cy="584.7" r="7"/><circle cx="806.3" cy="585.1" r="7"/><circle cx="806.7" cy="584.6" r="7"/><circle cx="807.0" cy="584.3" r="7"/><circle cx="807.4" cy="584.2" r="7"/><circle cx="807.7" cy="584.4" r="7"/><circle cx="808.1" cy="584.2" r="7"/><circle cx="808.5" cy="583.8" r="7"/><circle cx="808.8" cy="584.1" r="7"/><circle cx="809.2" cy="583.8" r="7"/><circle cx="809.5" cy="583.9" r="7"/><circle cx="809.9" cy="583.8" r="7"/><circle cx="810.2" cy="583.9" r="7"/><circle cx="810.6" cy="584.1" r="7"/><circle cx="810.9" cy="584.2" r="7"/><circle cx="811.3" cy="584.6" r="7"/><circle cx="811.6" cy="584.7" r="7"/><circle cx="812.0" cy="584.6" r="7"/><circle cx="812.3" cy="584.6" r="7"/><circle cx="812.7" cy="585.1" r="7"/><circle cx="813.0" cy="584.6" r="7"/><circle cx="813.4" cy="584.7" r="7"/><circle cx="813.7" cy="585.3" r="7"/><circle cx="814.1" cy="585.3" r="7"/><circle cx="814.4" cy="585.4" r="7"/><circle cx="814.8" cy="585.2" r="7"/><circle cx="815.1" cy="585.0" r="7"/><circle cx="815.5" cy="585.2" r="7"/><circle cx="815.8" cy="585.4" r="7"/><circle cx="816.2" cy="585.1" r="7"/><circle cx="816.5" cy="585.2" r="7"/><circle cx="816.9" cy="585.0" r="7"/><circle cx="817.2" cy="585.1" r="7"/><circle cx="817.6" cy="585.5" r="7"/><circle cx="817.9" cy="585.4" r="7"/><circle cx="818.3" cy="585.1" r="7"/><circle cx="818.6" cy="585.1" r="7"/><circle cx="819.0" cy="585.2" r="7"/><circle cx="819.3" cy="585.5" r="7"/><circle cx="819.7" cy="585.1" r="7"/><circle cx="820.0" cy="585.3" r="7"/><circle cx="820.4" cy="585.0" r="7"/><circle cx="820.8" cy="585.1" r="7"/><circle cx="821.1" cy="585.5" r="7"/><circle cx="821.5" cy="585.5" r="7"/><circle cx="821.8" cy="585.1" r="7"/><circle cx="822.2" cy="585.1" r="7"/><circle cx="822.5" cy="585.4" r="7"/><circle cx="822.9" cy="585.2" r="7"/><circle cx="823.2" cy="585.1" r="7"/><circle cx="823.6" cy="585.3" r="7"/><circle cx="823.9" cy="585.2" r="7"/><circle cx="824.3" cy="585.3" r="7"/><circle cx="824.6" cy="585.2" r="7"/><circle cx="825.0" cy="584.9" r="7"/><circle cx="825.3" cy="585.0" r="7"/><circle cx="825.7" cy="585.0" r="7"/><circle cx="826.0" cy="584.7" r="7"/><circle cx="826.4" cy="584.7" r="7"/><circle cx="826.7" cy="585.1" r="7"/><circle cx="827.1" cy="584.5" r="7"/><circle cx="827.4" cy="585.0" r="7"/><circle cx="827.8" cy="584.9" r="7"/><circle cx="828.1" cy="584.8" r="7"/><circle cx="828.5" cy="584.9" r="7"/><circle cx="828.8" cy="584.9" r="7"/><circle cx="829.2" cy="585.1" r="7"/><circle cx="829.5" cy="584.8" r="7"/><circle cx="829.9" cy="584.9" r="7"/><circle cx="830.2" cy="584.9" r="7"/><circle cx="830.6" cy="585.4" r="7"/><circle cx="830.9" cy="585.2" r="7"/><circle cx="831.3" cy="584.9" r="7"/><circle cx="831.6" cy="585.1" r="7"/><circle cx="832.0" cy="585.0" r="7"/><circle cx="832.4" cy="585.2" r="7"/><circle cx="832.7" cy="585.2" r="7"/><circle cx="833.1" cy="585.7" r="7"/><circle cx="833.4" cy="584.9" r="7"/><circle cx="833.8" cy="585.4" r="7"/><circle cx="834.1" cy="585.3" r="7"/><circle cx="834.5" cy="585.1" r="7"/><circle cx="834.8" cy="585.2" r="7"/><circle cx="835.2" cy="585.1" r="7"/><circle cx="835.5" cy="585.2" r="7"/><circle cx="835.9" cy="585.4" r="7"/><circle cx="836.2" cy="584.9" r="7"/><circle cx="836.6" cy="585.5" r="7"/><circle cx="836.9" cy="585.2" r="7"/><circle cx="837.3" cy="585.6" r="7"/><circle cx="837.6" cy="585.4" r="7"/><circle cx="838.0" cy="585.6" r="7"/><circle cx="838.3" cy="585.4" r="7"/><circle cx="838.7" cy="585.5" r="7"/><circle cx="839.0" cy="585.3" r="7"/><circle cx="839.4" cy="585.0" r="7"/><circle cx="839.7" cy="585.3" r="7"/><circle cx="840.1" cy="585.2" r="7"/><circle cx="840.4" cy="585.3" r="7"/><circle cx="840.8" cy="584.4" r="7"/><circle cx="841.1" cy="584.6" r="7"/><circle cx="841.5" cy="584.7" r="7"/><circle cx="841.8" cy="584.1" r="7"/><circle cx="842.2" cy="584.2" r="7"/><circle cx="842.5" cy="584.5" r="7"/><circle cx="842.9" cy="584.3" r="7"/><circle cx="843.2" cy="583.7" r="7"/><circle cx="843.6" cy="584.1" r="7"/><circle cx="844.0" cy="583.9" r="7"/><circle cx="844.3" cy="583.8" r="7"/><circle cx="844.7" cy="583.6" r="7"/><circle cx="845.0" cy="583.6" r="7"/><circle cx="845.4" cy="583.3" r="7"/><circle cx="845.7" cy="583.4" r="7"/><circle cx="846.1" cy="583.6" r="7"/><circle cx="846.4" cy="583.5" r="7"/><circle cx="846.8" cy="583.8" r="7"/><circle cx="847.1" cy="583.4" r="7"/><circle cx="847.5" cy="583.0" r="7"/><circle cx="847.8" cy="583.4" r="7"/><circle cx="848.2" cy="583.5" r="7"/><circle cx="848.5" cy="583.5" r="7"/><circle cx="848.9" cy="583.5" r="7"/><circle cx="849.2" cy="583.3" r="7"/><circle cx="849.6" cy="583.7" r="7"/><circle cx="849.9" cy="583.3" r="7"/><circle cx="850.3" cy="583.6" r="7"/><circle cx="850.6" cy="583.4" r="7"/><circle cx="851.0" cy="583.2" r="7"/><circle cx="851.3" cy="583.7" r="7"/><circle cx="851.7" cy="583.0" r="7"/><circle cx="852.0" cy="583.3" r="7"/><circle cx="852.4" cy="583.6" r="7"/><circle cx="852.7" cy="583.4" r="7"/><circle cx="853.1" cy="583.7" r="7"/><circle cx="853.4" cy="583.5" r="7"/><circle cx="853.8" cy="583.5" r="7"/><circle cx="854.1" cy="584.0" r="7"/><circle cx="854.5" cy="583.5" r="7"/><circle cx="854.8" cy="583.6" r="7"/><circle cx="855.2" cy="583.4" r="7"/><circle cx="855.6" cy="583.5" r="7"/><circle cx="855.9" cy="583.9" r="7"/><circle cx="856.3" cy="583.9" r="7"/><circle cx="856.6" cy="583.8" r="7"/><circle cx="857.0" cy="583.7" r="7"/><circle cx="857.3" cy="584.0" r="7"/><circle cx="857.7" cy="583.6" r="7"/><circle cx="858.0" cy="583.9" r="7"/><circle cx="858.4" cy="583.9" r="7"/><circle cx="858.7" cy="583.9" r="7"/><circle cx="859.1" cy="584.1" r="7"/><circle cx="859.4" cy="584.0" r="7"/><circle cx="859.8" cy="584.0" r="7"/><circle cx="860.1" cy="584.5" r="7"/><circle cx="860.5" cy="584.3" r="7"/><circle cx="860.8" cy="584.4" r="7"/><circle cx="861.2" cy="584.2" r="7"/><circle cx="861.5" cy="584.4" r="7"/><circle cx="861.9" cy="584.3" r="7"/><circle cx="862.2" cy="584.4" r="7"/><circle cx="862.6" cy="584.5" r="7"/><circle cx="862.9" cy="583.9" r="7"/><circle cx="863.3" cy="583.9" r="7"/><circle cx="863.6" cy="583.7" r="7"/><circle cx="864.0" cy="582.8" r="7"/><circle cx="864.3" cy="583.1" r="7"/><circle cx="864.7" cy="583.2" r="7"/><circle cx="865.0" cy="583.1" r="7"/><circle cx="865.4" cy="582.7" r="7"/><circle cx="865.7" cy="582.8" r="7"/><circle cx="866.1" cy="582.6" r="7"/><circle cx="866.4" cy="582.1" r="7"/><circle cx="866.8" cy="582.2" r="7"/><circle cx="867.2" cy="582.1" r="7"/><circle cx="867.5" cy="581.5" r="7"/><circle cx="867.9" cy="580.9" r="7"/><circle cx="868.2" cy="581.0" r="7"/><circle cx="868.6" cy="580.1" r="7"/><circle cx="868.9" cy="579.3" r="7"/><circle cx="869.3" cy="578.3" r="7"/><circle cx="869.6" cy="576.8" r="7"/><circle cx="870.0" cy="575.2" r="7"/><circle cx="870.3" cy="572.7" r="7"/><circle cx="870.7" cy="569.7" r="7"/><circle cx="871.0" cy="565.6" r="7"/><circle cx="871.4" cy="560.5" r="7"/><circle cx="871.7" cy="555.0" r="7"/><circle cx="872.1" cy="548.7" r="7"/><circle cx="872.4" cy="541.1" r="7"/><circle cx="872.8" cy="533.9" r="7"/><circle cx="873.1" cy="525.0" r="7"/><circle cx="873.5" cy="516.7" r="7"/><circle cx="873.8" cy="509.2" r="7"/><circle cx="874.2" cy="502.1" r="7"/><circle cx="874.5" cy="496.2" r="7"/><circle cx="874.9" cy="492.1" r="7"/><circle cx="875.2" cy="490.0" r="7"/><circle cx="875.6" cy="489.6" r="7"/><circle cx="875.9" cy="490.7" r="7"/><circle cx="876.3" cy="492.9" r="7"/><circle cx="876.6" cy="496.3" r="7"/><circle cx="877.0" cy="500.4" r="7"/><circle cx="877.3" cy="504.9" r="7"/><circle cx="877.7" cy="509.1" r="7"/><circle cx="878.0" cy="515.0" r="7"/><circle cx="878.4" cy="520.9" r="7"/><circle cx="878.8" cy="527.1" r="7"/><circle cx="879.1" cy="533.4" r="7"/><circle cx="879.5" cy="539.8" r="7"/><circle cx="879.8" cy="545.7" r="7"/><circle cx="880.2" cy="551.2" r="7"/><circle cx="880.5" cy="556.4" r="7"/><circle cx="880.9" cy="561.3" r="7"/><circle cx="881.2" cy="564.9" r="7"/><circle cx="881.6" cy="568.6" r="7"/><circle cx="881.9" cy="571.9" r="7"/><circle cx="882.3" cy="574.1" r="7"/><circle cx="882.6" cy="575.6" r="7"/><circle cx="883.0" cy="577.7" r="7"/><circle cx="883.3" cy="578.8" r="7"/><circle cx="883.7" cy="579.8" r="7"/><circle cx="884.0" cy="580.8" r="7"/><circle cx="884.4" cy="581.2" r="7"/><circle cx="884.7" cy="581.5" r="7"/><circle cx="885.1" cy="582.1" r="7"/><circle cx="885.4" cy="582.3" r="7"/><circle cx="885.8" cy="582.4" r="7"/><circle cx="886.1" cy="582.7" r="7"/><circle cx="886.5" cy="582.8" r="7"/><circle cx="886.8" cy="582.9" r="7"/><circle cx="887.2" cy="583.0" r="7"/><circle cx="887.5" cy="583.2" r="7"/><circle cx="887.9" cy="583.1" r="7"/><circle cx="888.2" cy="583.1" r="7"/><circle cx="888.6" cy="583.7" r="7"/><circle cx="888.9" cy="583.4" r="7"/><circle cx="889.3" cy="583.5" r="7"/><circle cx="889.6" cy="583.5" r="7"/><circle cx="890.0" cy="583.5" r="7"/><circle cx="890.3" cy="583.5" r="7"/><circle cx="890.7" cy="583.5" r="7"/><circle cx="891.1" cy="583.3" r="7"/><circle cx="891.4" cy="583.6" r="7"/><circle cx="891.8" cy="583.2" r="7"/><circle cx="892.1" cy="583.5" r="7"/><circle cx="892.5" cy="582.9" r="7"/><circle cx="892.8" cy="583.0" r="7"/><circle cx="893.2" cy="583.4" r="7"/><circle cx="893.5" cy="583.1" r="7"/><circle cx="893.9" cy="583.0" r="7"/><circle cx="894.2" cy="583.2" r="7"/><circle cx="894.6" cy="583.0" r="7"/><circle cx="894.9" cy="583.2" r="7"/><circle cx="895.3" cy="582.8" r="7"/><circle cx="895.6" cy="583.3" r="7"/><circle cx="896.0" cy="583.3" r="7"/><circle cx="896.3" cy="583.7" r="7"/><circle cx="896.7" cy="583.8" r="7"/><circle cx="897.0" cy="583.6" r="7"/><circle cx="897.4" cy="584.2" r="7"/><circle cx="897.7" cy="583.9" r="7"/><circle cx="898.1" cy="583.7" r="7"/><circle cx="898.4" cy="583.8" r="7"/><circle cx="898.8" cy="584.7" r="7"/><circle cx="899.1" cy="584.5" r="7"/><circle cx="899.5" cy="584.5" r="7"/><circle cx="899.8" cy="584.5" r="7"/><circle cx="900.2" cy="584.6" r="7"/><circle cx="900.5" cy="585.1" r="7"/><circle cx="900.9" cy="584.9" r="7"/><circle cx="901.2" cy="585.4" r="7"/><circle cx="901.6" cy="585.1" r="7"/><circle cx="901.9" cy="584.7" r="7"/><circle cx="902.3" cy="585.4" r="7"/><circle cx="902.7" cy="585.1" r="7"/><circle cx="903.0" cy="585.2" r="7"/><circle cx="903.4" cy="585.5" r="7"/><circle cx="903.7" cy="585.1" r="7"/><circle cx="904.1" cy="585.4" r="7"/><circle cx="904.4" cy="585.1" r="7"/><circle cx="904.8" cy="584.8" r="7"/><circle cx="905.1" cy="585.0" r="7"/><circle cx="905.5" cy="584.7" r="7"/><circle cx="905.8" cy="584.9" r="7"/><circle cx="906.2" cy="584.8" r="7"/><circle cx="906.5" cy="584.5" r="7"/><circle cx="906.9" cy="584.5" r="7"/><circle cx="907.2" cy="584.5" r="7"/><circle cx="907.6" cy="584.2" r="7"/><circle cx="907.9" cy="584.4" r="7"/><circle cx="908.3" cy="584.2" r="7"/><circle cx="908.6" cy="584.3" r="7"/><circle cx="909.0" cy="584.0" r="7"/><circle cx="909.3" cy="584.3" r="7"/><circle cx="909.7" cy="584.3" r="7"/><circle cx="910.0" cy="584.1" r="7"/><circle cx="910.4" cy="584.2" r="7"/><circle cx="910.7" cy="584.3" r="7"/><circle cx="911.1" cy="584.6" r="7"/><circle cx="911.4" cy="584.3" r="7"/><circle cx="911.8" cy="584.6" r="7"/><circle cx="912.1" cy="584.9" r="7"/><circle cx="912.5" cy="584.7" r="7"/><circle cx="912.8" cy="584.3" r="7"/><circle cx="913.2" cy="584.7" r="7"/><circle cx="913.5" cy="585.0" r="7"/><circle cx="913.9" cy="584.7" r="7"/><circle cx="914.3" cy="585.1" r="7"/><circle cx="914.6" cy="585.0" r="7"/><circle cx="915.0" cy="585.0" r="7"/><circle cx="915.3" cy="584.8" r="7"/><circle cx="915.7" cy="584.8" r="7"/><circle cx="916.0" cy="584.8" r="7"/><circle cx="916.4" cy="584.9" r="7"/><circle cx="916.7" cy="585.0" r="7"/><circle cx="917.1" cy="584.9" r="7"/><circle cx="917.4" cy="584.8" r="7"/><circle cx="917.8" cy="584.8" r="7"/><circle cx="918.1" cy="584.8" r="7"/><circle cx="918.5" cy="584.4" r="7"/><circle cx="918.8" cy="584.5" r="7"/><circle cx="919.2" cy="584.4" r="7"/><circle cx="919.5" cy="584.5" r="7"/><circle cx="919.9" cy="584.4" r="7"/><circle cx="920.2" cy="584.4" r="7"/><circle cx="920.6" cy="584.2" r="7"/><circle cx="920.9" cy="584.4" r="7"/><circle cx="921.3" cy="584.3" r="7"/><circle cx="921.6" cy="583.8" r="7"/><circle cx="922.0" cy="584.0" r="7"/><circle cx="922.3" cy="583.7" r="7"/><circle cx="922.7" cy="584.2" r="7"/><circle cx="923.0" cy="583.7" r="7"/><circle cx="923.4" cy="583.7" r="7"/><circle cx="923.7" cy="583.8" r="7"/><circle cx="924.1" cy="583.7" r="7"/><circle cx="924.4" cy="583.7" r="7"/><circle cx="924.8" cy="584.0" r="7"/><circle cx="925.1" cy="583.8" r="7"/><circle cx="925.5" cy="583.9" r="7"/><circle cx="925.9" cy="584.0" r="7"/><circle cx="926.2" cy="583.6" r="7"/><circle cx="926.6" cy="584.2" r="7"/><circle cx="926.9" cy="584.0" r="7"/><circle cx="927.3" cy="584.1" r="7"/><circle cx="927.6" cy="583.8" r="7"/><circle cx="928.0" cy="584.2" r="7"/><circle cx="928.3" cy="584.2" r="7"/><circle cx="928.7" cy="584.1" r="7"/><circle cx="929.0" cy="584.7" r="7"/><circle cx="929.4" cy="584.3" r="7"/><circle cx="929.7" cy="584.2" r="7"/><circle cx="930.1" cy="584.3" r="7"/><circle cx="930.4" cy="584.5" r="7"/><circle cx="930.8" cy="584.5" r="7"/><circle cx="931.1" cy="584.4" r="7"/><circle cx="931.5" cy="584.5" r="7"/><circle cx="931.8" cy="584.5" r="7"/><circle cx="932.2" cy="583.9" r="7"/><circle cx="932.5" cy="584.0" r="7"/><circle cx="932.9" cy="583.8" r="7"/><circle cx="933.2" cy="583.9" r="7"/><circle cx="933.6" cy="584.1" r="7"/><circle cx="933.9" cy="583.8" r="7"/><circle cx="934.3" cy="583.2" r="7"/><circle cx="934.6" cy="583.1" r="7"/><circle cx="935.0" cy="583.0" r="7"/><circle cx="935.3" cy="582.3" r="7"/><circle cx="935.7" cy="581.9" r="7"/><circle cx="936.0" cy="581.4" r="7"/><circle cx="936.4" cy="580.2" r="7"/><circle cx="936.7" cy="580.0" r="7"/><circle cx="937.1" cy="579.0" r="7"/><circle cx="937.5" cy="578.1" r="7"/><circle cx="937.8" cy="576.9" r="7"/><circle cx="938.2" cy="576.0" r="7"/><circle cx="938.5" cy="575.2" r="7"/><circle cx="938.9" cy="574.7" r="7"/><circle cx="939.2" cy="574.1" r="7"/><circle cx="939.6" cy="573.8" r="7"/><circle cx="939.9" cy="574.0" r="7"/><circle cx="940.3" cy="573.9" r="7"/><circle cx="940.6" cy="573.6" r="7"/><circle cx="941.0" cy="573.9" r="7"/><circle cx="941.3" cy="574.7" r="7"/><circle cx="941.7" cy="574.8" r="7"/><circle cx="942.0" cy="575.6" r="7"/><circle cx="942.4" cy="576.2" r="7"/><circle cx="942.7" cy="576.4" r="7"/><circle cx="943.1" cy="577.1" r="7"/><circle cx="943.4" cy="577.9" r="7"/><circle cx="943.8" cy="578.5" r="7"/><circle cx="944.1" cy="579.2" r="7"/><circle cx="944.5" cy="580.1" r="7"/><circle cx="944.8" cy="581.0" r="7"/><circle cx="945.2" cy="581.4" r="7"/><circle cx="945.5" cy="581.9" r="7"/><circle cx="945.9" cy="582.3" r="7"/><circle cx="946.2" cy="582.5" r="7"/><circle cx="946.6" cy="583.4" r="7"/><circle cx="946.9" cy="582.8" r="7"/><circle cx="947.3" cy="583.3" r="7"/><circle cx="947.6" cy="583.6" r="7"/><circle cx="948.0" cy="583.2" r="7"/><circle cx="948.3" cy="583.6" r="7"/><circle cx="948.7" cy="583.7" r="7"/><circle cx="949.1" cy="583.2" r="7"/><circle cx="949.4" cy="583.4" r="7"/><circle cx="949.8" cy="583.1" r="7"/><circle cx="950.1" cy="583.5" r="7"/><circle cx="950.5" cy="583.4" r="7"/><circle cx="950.8" cy="583.4" r="7"/><circle cx="951.2" cy="583.7" r="7"/><circle cx="951.5" cy="583.6" r="7"/><circle cx="951.9" cy="583.9" r="7"/><circle cx="952.2" cy="583.9" r="7"/><circle cx="952.6" cy="583.6" r="7"/><circle cx="952.9" cy="584.0" r="7"/><circle cx="953.3" cy="584.2" r="7"/><circle cx="953.6" cy="583.9" r="7"/><circle cx="954.0" cy="584.6" r="7"/><circle cx="954.3" cy="584.5" r="7"/><circle cx="954.7" cy="584.6" r="7"/><circle cx="955.0" cy="584.5" r="7"/><circle cx="955.4" cy="584.7" r="7"/><circle cx="955.7" cy="584.8" r="7"/><circle cx="956.1" cy="584.7" r="7"/><circle cx="956.4" cy="584.7" r="7"/><circle cx="956.8" cy="584.3" r="7"/><circle cx="957.1" cy="584.9" r="7"/><circle cx="957.5" cy="584.3" r="7"/><circle cx="957.8" cy="584.0" r="7"/><circle cx="958.2" cy="584.1" r="7"/><circle cx="958.5" cy="584.0" r="7"/><circle cx="958.9" cy="584.1" r="7"/><circle cx="959.2" cy="583.7" r="7"/><circle cx="959.6" cy="583.7" r="7"/><circle cx="959.9" cy="583.3" r="7"/><circle cx="960.3" cy="583.7" r="7"/><circle cx="960.6" cy="583.0" r="7"/><circle cx="961.0" cy="583.0" r="7"/><circle cx="961.4" cy="582.0" r="7"/><circle cx="961.7" cy="581.9" r="7"/><circle cx="962.1" cy="580.9" r="7"/><circle cx="962.4" cy="580.5" r="7"/><circle cx="962.8" cy="579.4" r="7"/><circle cx="963.1" cy="577.7" r="7"/><circle cx="963.5" cy="576.1" r="7"/><circle cx="963.8" cy="573.9" r="7"/><circle cx="964.2" cy="571.2" r="7"/><circle cx="964.5" cy="568.2" r="7"/><circle cx="964.9" cy="564.4" r="7"/><circle cx="965.2" cy="559.9" r="7"/><circle cx="965.6" cy="555.3" r="7"/><circle cx="965.9" cy="550.0" r="7"/><circle cx="966.3" cy="544.0" r="7"/><circle cx="966.6" cy="538.3" r="7"/><circle cx="967.0" cy="532.6" r="7"/><circle cx="967.3" cy="527.2" r="7"/><circle cx="967.7" cy="522.4" r="7"/><circle cx="968.0" cy="518.8" r="7"/><circle cx="968.4" cy="516.1" r="7"/><circle cx="968.7" cy="514.6" r="7"/><circle cx="969.1" cy="514.1" r="7"/><circle cx="969.4" cy="515.2" r="7"/><circle cx="969.8" cy="516.7" r="7"/><circle cx="970.1" cy="518.5" r="7"/><circle cx="970.5" cy="521.2" r="7"/><circle cx="970.8" cy="524.5" r="7"/><circle cx="971.2" cy="527.4" r="7"/><circle cx="971.5" cy="531.1" r="7"/><circle cx="971.9" cy="534.8" r="7"/><circle cx="972.2" cy="538.6" r="7"/><circle cx="972.6" cy="542.9" r="7"/><circle cx="973.0" cy="546.9" r="7"/><circle cx="973.3" cy="551.3" r="7"/><circle cx="973.7" cy="555.2" r="7"/><circle cx="974.0" cy="560.0" r="7"/><circle cx="974.4" cy="563.5" r="7"/><circle cx="974.7" cy="566.8" r="7"/><circle cx="975.1" cy="569.7" r="7"/><circle cx="975.4" cy="572.4" r="7"/><circle cx="975.8" cy="574.7" r="7"/><circle cx="976.1" cy="576.6" r="7"/><circle cx="976.5" cy="578.1" r="7"/><circle cx="976.8" cy="579.0" r="7"/><circle cx="977.2" cy="580.2" r="7"/><circle cx="977.5" cy="580.8" r="7"/><circle cx="977.9" cy="581.3" r="7"/><circle cx="978.2" cy="581.8" r="7"/><circle cx="978.6" cy="582.5" r="7"/><circle cx="978.9" cy="582.9" r="7"/><circle cx="979.3" cy="582.6" r="7"/><circle cx="979.6" cy="583.4" r="7"/><circle cx="980.0" cy="583.5" r="7"/><circle cx="980.3" cy="583.3" r="7"/><circle cx="980.7" cy="583.4" r="7"/><circle cx="981.0" cy="583.6" r="7"/><circle cx="981.4" cy="583.9" r="7"/><circle cx="981.7" cy="583.7" r="7"/><circle cx="982.1" cy="583.6" r="7"/><circle cx="982.4" cy="583.9" r="7"/><circle cx="982.8" cy="583.4" r="7"/><circle cx="983.1" cy="583.7" r="7"/><circle cx="983.5" cy="583.7" r="7"/><circle cx="983.8" cy="583.2" r="7"/><circle cx="984.2" cy="582.8" r="7"/><circle cx="984.6" cy="582.2" r="7"/><circle cx="984.9" cy="581.4" r="7"/><circle cx="985.3" cy="580.2" r="7"/><circle cx="985.6" cy="578.6" r="7"/><circle cx="986.0" cy="577.1" r="7"/><circle cx="986.3" cy="575.2" r="7"/><circle cx="986.7" cy="573.2" r="7"/><circle cx="987.0" cy="570.7" r="7"/><circle cx="987.4" cy="567.8" r="7"/><circle cx="987.7" cy="564.7" r="7"/><circle cx="988.1" cy="561.8" r="7"/><circle cx="988.4" cy="559.0" r="7"/><circle cx="988.8" cy="556.7" r="7"/><circle cx="989.1" cy="554.2" r="7"/><circle cx="989.5" cy="552.4" r="7"/><circle cx="989.8" cy="551.0" r="7"/><circle cx="990.2" cy="550.7" r="7"/><circle cx="990.5" cy="550.5" r="7"/><circle cx="990.9" cy="550.8" r="7"/><circle cx="991.2" cy="551.6" r="7"/><circle cx="991.6" cy="553.0" r="7"/><circle cx="991.9" cy="553.9" r="7"/><circle cx="992.3" cy="555.7" r="7"/><circle cx="992.6" cy="557.2" r="7"/><circle cx="993.0" cy="558.6" r="7"/><circle cx="993.3" cy="560.5" r="7"/><circle cx="993.7" cy="562.2" r="7"/><circle cx="994.0" cy="564.0" r="7"/><circle cx="994.4" cy="566.2" r="7"/><circle cx="994.7" cy="568.1" r="7"/><circle cx="995.1" cy="570.4" r="7"/><circle cx="995.4" cy="572.2" r="7"/><circle cx="995.8" cy="574.1" r="7"/><circle cx="996.2" cy="575.8" r="7"/><circle cx="996.5" cy="576.6" r="7"/><circle cx="996.9" cy="578.6" r="7"/><circle cx="997.2" cy="579.3" r="7"/><circle cx="997.6" cy="580.6" r="7"/><circle cx="997.9" cy="581.2" r="7"/><circle cx="998.3" cy="582.0" r="7"/><circle cx="998.6" cy="582.8" r="7"/><circle cx="999.0" cy="582.6" r="7"/><circle cx="999.3" cy="583.2" r="7"/><circle cx="999.7" cy="583.4" r="7"/><circle cx="1000.0" cy="583.2" r="7"/><circle cx="1000.4" cy="583.8" r="7"/><circle cx="1000.7" cy="583.7" r="7"/><circle cx="1001.1" cy="583.7" r="7"/><circle cx="1001.4" cy="583.6" r="7"/><circle cx="1001.8" cy="584.4" r="7"/><circle cx="1002.1" cy="583.7" r="7"/><circle cx="1002.5" cy="583.5" r="7"/><circle cx="1002.8" cy="583.6" r="7"/><circle cx="1003.2" cy="583.8" r="7"/><circle cx="1003.5" cy="583.8" r="7"/><circle cx="1003.9" cy="583.9" r="7"/><circle cx="1004.2" cy="583.7" r="7"/><circle cx="1004.6" cy="584.1" r="7"/><circle cx="1004.9" cy="583.9" r="7"/><circle cx="1005.3" cy="583.7" r="7"/><circle cx="1005.6" cy="583.9" r="7"/><circle cx="1006.0" cy="584.0" r="7"/><circle cx="1006.3" cy="584.3" r="7"/><circle cx="1006.7" cy="584.3" r="7"/></g>
</g>
<rect x="81.9" y="4.5" width="925.00" height="613.15" fill="none" stroke="#000" stroke-width="2.9"/>
<path d="M81.9 617.65V630M266.9 617.65V630M451.9 617.65V630M636.9 617.65V630M821.9 617.65V630M1006.9 617.65V630M174.4 617.65V624M359.4 617.65V624M544.4 617.65V624M729.4 617.65V624M914.4 617.65V624" stroke="#000" stroke-width="2.9" fill="none"/>
<line x1="131" y1="70.8" x2="198" y2="70.8" stroke="#000" stroke-width="2.2"/>
<circle cx="164.4" cy="70.4" r="6.6" fill="url(#sph)"/>
<rect x="573.9" y="29.1" width="394.8" height="282.0" fill="#fff" stroke="none"/>
<rect x="599.6" y="38" width="150.1" height="57.2" fill="#fff" stroke="#8a8a8a" stroke-width="1.2"/>
<circle cx="623.2" cy="54.9" r="4.6" fill="url(#sph)"/>
<line x1="600.3" y1="78.9" x2="646.4" y2="78.9" stroke="#d81420" stroke-width="2.2"/>
<g fill="url(#sph)"><circle cx="600.6" cy="270.1" r="4.7"/><circle cx="625.7" cy="261.8" r="4.7"/><circle cx="642.4" cy="240.0" r="4.7"/><circle cx="746.0" cy="175.3" r="4.7"/><circle cx="826.1" cy="131.2" r="4.7"/><circle cx="879.5" cy="102.3" r="4.7"/><circle cx="908.6" cy="59.4" r="4.7"/></g>
<line x1="601" y1="271.1" x2="909.1" y2="72.3" stroke="#d81420" stroke-width="2.2"/>
<rect x="573.9" y="29.1" width="394.8" height="282.0" fill="none" stroke="#000" stroke-width="3"/>
<path d="M573.9 29.1H579.9M573.9 64.3H577.4M573.9 99.6H579.9M573.9 134.8H577.4M573.9 170.1H579.9M573.9 205.3H577.4M573.9 240.6H579.9M573.9 275.9H577.4M573.9 311.1H579.9M630.3 311.1V305.1M743.1 311.1V305.1M855.9 311.1V305.1M968.7 311.1V305.1M686.7 311.1V307.6M799.5 311.1V307.6M912.3 311.1V307.6" stroke="#000" stroke-width="2.5" fill="none"/>
<text transform="translate(204.63 79.53) scale(1.0258 0.9436)" font-size="27">ZnO</text>
<text transform="translate(67.77 655.90) scale(1.0337 0.9943)" font-size="24">20</text>
<text transform="translate(253.02 655.90) scale(1.0235 0.9943)" font-size="24">30</text>
<text transform="translate(438.26 655.90) scale(1.0136 0.9943)" font-size="24">40</text>
<text transform="translate(622.98 655.90) scale(1.0235 0.9943)" font-size="24">50</text>
<text transform="translate(807.69 655.90) scale(1.0337 0.9943)" font-size="24">60</text>
<text transform="translate(992.67 655.90) scale(1.0337 0.9943)" font-size="24">70</text>
<text transform="translate(425.91 706.14) scale(1.0527 0.9855)" font-size="29">2 Theta (degree)</text>
<text transform="translate(30.02 415.89) rotate(-90) scale(1.0801 1.0364)" font-size="29">Intensity (a.u.)</text>
<text transform="translate(485.62 34.50) scale(1.0426 1.0000)" font-size="21.5">0,00490</text>
<text transform="translate(485.62 105.00) scale(1.0392 1.0000)" font-size="21.5">0,00455</text>
<text transform="translate(485.62 175.50) scale(1.0426 1.0000)" font-size="21.5">0,00420</text>
<text transform="translate(485.62 246.00) scale(1.0392 1.0000)" font-size="21.5">0,00385</text>
<text transform="translate(485.62 316.50) scale(1.0426 1.0000)" font-size="21.5">0,00350</text>
<text transform="translate(612.86 333.76) scale(1.0716 0.9677)" font-size="21.5"><tspan class="n1" font-size="19.82">1</tspan>,2</text>
<text transform="translate(725.66 333.76) scale(1.0716 0.9677)" font-size="21.5"><tspan class="n1" font-size="19.82">1</tspan>,6</text>
<text transform="translate(840.09 333.76) scale(1.0157 0.9677)" font-size="21.5">2,0</text>
<text transform="translate(952.91 333.76) scale(0.9898 0.9677)" font-size="21.5">2,4</text>
<text transform="translate(721.22 376.83) scale(1.1345 1.0711)" font-size="32">4 sin<tspan class="sym" font-size="28.5" stroke="#000" stroke-width="0.8">θ</tspan></text>
<text transform="translate(460.84 245.48) rotate(-90) scale(1.0742 0.9600)" font-size="32"><tspan class="sym" stroke="#000" stroke-width="0.7">β</tspan> cos <tspan class="sym" font-size="32" stroke="#000" stroke-width="0.8">θ</tspan></text>
<text transform="translate(651.60 60.87) scale(1.0068 0.9091)" font-size="19">ZnO</text>
<text transform="translate(652.08 84.98) scale(1.0154 0.8772)" font-size="19">Linear Fit</text>
<text transform="translate(308.29 373.22) rotate(-90) scale(1.0667 1.0120)" font-size="22">(<tspan class="n1" font-size="20.28">1</tspan>00)</text>
<text transform="translate(354.89 417.57) rotate(-90) scale(1.0667 1.0120)" font-size="22">(002)</text>
<text transform="translate(389.44 221.27) rotate(-90) scale(1.0667 1.0120)" font-size="22">(<tspan class="n1" font-size="20.28">1</tspan>0<tspan class="n1" font-size="20.28">1</tspan>)</text>
<text transform="translate(599.99 497.87) rotate(-90) scale(1.0667 1.0120)" font-size="22">(<tspan class="n1" font-size="20.28">1</tspan>02)</text>
<text transform="translate(766.04 470.62) rotate(-90) scale(1.0667 1.0120)" font-size="22">(<tspan class="n1" font-size="20.28">1</tspan><tspan class="n1" font-size="20.28">1</tspan>0)</text>
<text transform="translate(881.29 476.72) rotate(-90) scale(1.0667 1.0120)" font-size="22">(200)</text>
<text transform="translate(944.64 561.52) rotate(-90) scale(1.0667 1.0120)" font-size="22">(<tspan class="n1" font-size="20.28">1</tspan>03)</text>
<text transform="translate(968.59 502.72) rotate(-90) scale(1.0667 1.0120)" font-size="22">(<tspan class="n1" font-size="20.28">1</tspan><tspan class="n1" font-size="20.28">1</tspan>2)</text>
<text transform="translate(996.24 521.72) rotate(-90) scale(1.0667 1.0120)" font-size="22">(20<tspan class="n1" font-size="20.28">1</tspan>)</text>
</svg>
</body></html>
